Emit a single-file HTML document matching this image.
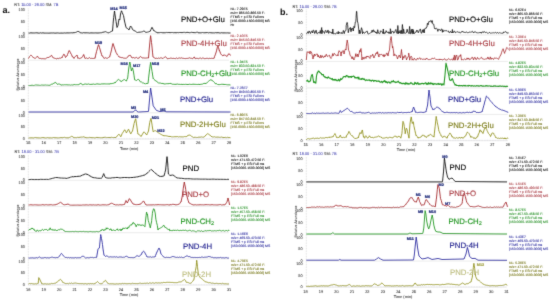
<!DOCTYPE html>
<html><head><meta charset="utf-8"><style>
html,body{margin:0;padding:0;background:#fff;}
body{width:550px;height:301px;overflow:hidden;}
svg{display:block;text-rendering:geometricPrecision;font-family:"Liberation Sans",Arial,sans-serif;}
</style></head><body>
<svg width="550" height="301" viewBox="0 0 550 301">
<defs><filter id="bl" filterUnits="userSpaceOnUse" x="0" y="0" width="550" height="301"><feConvolveMatrix order="3" kernelMatrix="0.01134 0.08382 0.01134 0.08382 0.61935 0.08382 0.01134 0.08382 0.01134" divisor="1" edgeMode="none"/></filter></defs>
<rect width="550" height="301" fill="#fff"/>
<g filter="url(#bl)">
<text x="2.50" y="13.40" font-size="9" fill="#111" text-anchor="start" font-weight="bold" >a.</text>
<text x="280.00" y="15.40" font-size="9" fill="#111" text-anchor="start" font-weight="bold" >b.</text>
<line x1="28.30" y1="8.50" x2="28.30" y2="138.70" stroke="#c8c8c8" stroke-width="0.6" stroke-dasharray="0.8,0.8"/>
<line x1="28.30" y1="138.70" x2="229.10" y2="138.70" stroke="#d0d0dc" stroke-width="0.6" stroke-dasharray="0.8,0.8"/>
<line x1="28.30" y1="33.90" x2="229.10" y2="33.90" stroke="#d8d8d8" stroke-width="0.5"/>
<text x="24.90" y="11.45" font-size="3.8" fill="#333" text-anchor="end" font-weight="normal"  stroke="#333" stroke-width="0.04">100</text>
<text x="24.90" y="23.20" font-size="3.8" fill="#333" text-anchor="end" font-weight="normal"  stroke="#333" stroke-width="0.04">50</text>
<text x="24.90" y="34.95" font-size="3.8" fill="#333" text-anchor="end" font-weight="normal"  stroke="#333" stroke-width="0.04">0</text>
<line x1="28.30" y1="60.20" x2="229.10" y2="60.20" stroke="#d8d8d8" stroke-width="0.5"/>
<text x="24.90" y="37.75" font-size="3.8" fill="#333" text-anchor="end" font-weight="normal"  stroke="#333" stroke-width="0.04">100</text>
<text x="24.90" y="49.50" font-size="3.8" fill="#333" text-anchor="end" font-weight="normal"  stroke="#333" stroke-width="0.04">50</text>
<text x="24.90" y="61.25" font-size="3.8" fill="#333" text-anchor="end" font-weight="normal"  stroke="#333" stroke-width="0.04">0</text>
<line x1="28.30" y1="86.50" x2="229.10" y2="86.50" stroke="#d8d8d8" stroke-width="0.5"/>
<text x="24.90" y="64.05" font-size="3.8" fill="#333" text-anchor="end" font-weight="normal"  stroke="#333" stroke-width="0.04">100</text>
<text x="24.90" y="75.80" font-size="3.8" fill="#333" text-anchor="end" font-weight="normal"  stroke="#333" stroke-width="0.04">50</text>
<text x="24.90" y="87.55" font-size="3.8" fill="#333" text-anchor="end" font-weight="normal"  stroke="#333" stroke-width="0.04">0</text>
<line x1="28.30" y1="112.80" x2="229.10" y2="112.80" stroke="#d8d8d8" stroke-width="0.5"/>
<text x="24.90" y="90.35" font-size="3.8" fill="#333" text-anchor="end" font-weight="normal"  stroke="#333" stroke-width="0.04">100</text>
<text x="24.90" y="102.10" font-size="3.8" fill="#333" text-anchor="end" font-weight="normal"  stroke="#333" stroke-width="0.04">50</text>
<text x="24.90" y="113.85" font-size="3.8" fill="#333" text-anchor="end" font-weight="normal"  stroke="#333" stroke-width="0.04">0</text>
<line x1="28.30" y1="139.10" x2="229.10" y2="139.10" stroke="#d8d8d8" stroke-width="0.5"/>
<text x="24.90" y="116.65" font-size="3.8" fill="#333" text-anchor="end" font-weight="normal"  stroke="#333" stroke-width="0.04">100</text>
<text x="24.90" y="128.40" font-size="3.8" fill="#333" text-anchor="end" font-weight="normal"  stroke="#333" stroke-width="0.04">50</text>
<text x="24.90" y="140.15" font-size="3.8" fill="#333" text-anchor="end" font-weight="normal"  stroke="#333" stroke-width="0.04">0</text>
<text x="28.25" y="144.40" font-size="3.9" fill="#222" text-anchor="middle" font-weight="normal"  stroke="#222" stroke-width="0.04">15</text>
<text x="43.70" y="144.40" font-size="3.9" fill="#222" text-anchor="middle" font-weight="normal"  stroke="#222" stroke-width="0.04">16</text>
<text x="59.15" y="144.40" font-size="3.9" fill="#222" text-anchor="middle" font-weight="normal"  stroke="#222" stroke-width="0.04">17</text>
<text x="74.60" y="144.40" font-size="3.9" fill="#222" text-anchor="middle" font-weight="normal"  stroke="#222" stroke-width="0.04">18</text>
<text x="90.05" y="144.40" font-size="3.9" fill="#222" text-anchor="middle" font-weight="normal"  stroke="#222" stroke-width="0.04">19</text>
<text x="105.50" y="144.40" font-size="3.9" fill="#222" text-anchor="middle" font-weight="normal"  stroke="#222" stroke-width="0.04">20</text>
<text x="120.95" y="144.40" font-size="3.9" fill="#222" text-anchor="middle" font-weight="normal"  stroke="#222" stroke-width="0.04">21</text>
<text x="136.40" y="144.40" font-size="3.9" fill="#222" text-anchor="middle" font-weight="normal"  stroke="#222" stroke-width="0.04">22</text>
<text x="151.85" y="144.40" font-size="3.9" fill="#222" text-anchor="middle" font-weight="normal"  stroke="#222" stroke-width="0.04">23</text>
<text x="167.30" y="144.40" font-size="3.9" fill="#222" text-anchor="middle" font-weight="normal"  stroke="#222" stroke-width="0.04">24</text>
<text x="182.75" y="144.40" font-size="3.9" fill="#222" text-anchor="middle" font-weight="normal"  stroke="#222" stroke-width="0.04">25</text>
<text x="198.20" y="144.40" font-size="3.9" fill="#222" text-anchor="middle" font-weight="normal"  stroke="#222" stroke-width="0.04">26</text>
<text x="213.65" y="144.40" font-size="3.9" fill="#222" text-anchor="middle" font-weight="normal"  stroke="#222" stroke-width="0.04">27</text>
<text x="229.10" y="144.40" font-size="3.9" fill="#222" text-anchor="middle" font-weight="normal"  stroke="#222" stroke-width="0.04">28</text>
<text x="129.20" y="149.70" font-size="3.9" fill="#222" text-anchor="middle" font-weight="normal"  stroke="#222" stroke-width="0.04">Time (min)</text>
<text x="14.20" y="6.15" font-size="3.95" fill="#222" stroke="#222" stroke-width="0.03">RT: <tspan fill="#2c2ca8" stroke="#2c2ca8">15.00 - 28.00</tspan>  SM: <tspan fill="#2c2ca8" stroke="#2c2ca8">7B</tspan></text>
<text x="0" y="0" font-size="3.6" fill="#333" stroke="#333" stroke-width="0.06" text-anchor="middle" transform="translate(18.60,74.50) rotate(-90)">Relative Abundance</text>
<text x="230.60" y="10.30" font-size="3.4" fill="#000000" text-anchor="start" font-weight="normal" stroke="#000000" stroke-width="0.08">NL: 7.29E5</text>
<text x="230.60" y="14.30" font-size="3.4" fill="#000000" text-anchor="start" font-weight="normal" stroke="#000000" stroke-width="0.08">m/z= 865.50-866.50 F:</text>
<text x="230.60" y="18.30" font-size="3.4" fill="#000000" text-anchor="start" font-weight="normal" stroke="#000000" stroke-width="0.08">FTMS + p ESI Full ms</text>
<text x="230.60" y="22.30" font-size="3.4" fill="#000000" text-anchor="start" font-weight="normal" stroke="#000000" stroke-width="0.08">[150.0000-1500.0000]  MS</text>
<text x="230.60" y="26.30" font-size="3.4" fill="#000000" text-anchor="start" font-weight="normal" stroke="#000000" stroke-width="0.08">Hr</text>
<text x="230.60" y="36.60" font-size="3.4" fill="#a02830" text-anchor="start" font-weight="normal" stroke="#a02830" stroke-width="0.08">NL: 2.10E5</text>
<text x="230.60" y="40.60" font-size="3.4" fill="#a02830" text-anchor="start" font-weight="normal" stroke="#a02830" stroke-width="0.08">m/z= 845.50-846.50 F:</text>
<text x="230.60" y="44.60" font-size="3.4" fill="#a02830" text-anchor="start" font-weight="normal" stroke="#a02830" stroke-width="0.08">FTMS + p ESI Full ms</text>
<text x="230.60" y="48.60" font-size="3.4" fill="#a02830" text-anchor="start" font-weight="normal" stroke="#a02830" stroke-width="0.08">[150.0000-1500.0000]  MS</text>
<text x="230.60" y="62.90" font-size="3.4" fill="#1a8a1a" text-anchor="start" font-weight="normal" stroke="#1a8a1a" stroke-width="0.08">NL: 1.94E5</text>
<text x="230.60" y="66.90" font-size="3.4" fill="#1a8a1a" text-anchor="start" font-weight="normal" stroke="#1a8a1a" stroke-width="0.08">m/z= 833.50-834.50 F:</text>
<text x="230.60" y="70.90" font-size="3.4" fill="#1a8a1a" text-anchor="start" font-weight="normal" stroke="#1a8a1a" stroke-width="0.08">FTMS + p ESI Full ms</text>
<text x="230.60" y="74.90" font-size="3.4" fill="#1a8a1a" text-anchor="start" font-weight="normal" stroke="#1a8a1a" stroke-width="0.08">[150.0000-1500.0000]  MS</text>
<text x="230.60" y="89.20" font-size="3.4" fill="#1a1a96" text-anchor="start" font-weight="normal" stroke="#1a1a96" stroke-width="0.08">NL: 7.76E7</text>
<text x="230.60" y="93.20" font-size="3.4" fill="#1a1a96" text-anchor="start" font-weight="normal" stroke="#1a1a96" stroke-width="0.08">m/z= 849.50-850.50 F:</text>
<text x="230.60" y="97.20" font-size="3.4" fill="#1a1a96" text-anchor="start" font-weight="normal" stroke="#1a1a96" stroke-width="0.08">FTMS + p ESI Full ms</text>
<text x="230.60" y="101.20" font-size="3.4" fill="#1a1a96" text-anchor="start" font-weight="normal" stroke="#1a1a96" stroke-width="0.08">[150.0000-1500.0000]  MS</text>
<text x="230.60" y="115.50" font-size="3.4" fill="#6e6e10" text-anchor="start" font-weight="normal" stroke="#6e6e10" stroke-width="0.08">NL: 6.89E5</text>
<text x="230.60" y="119.50" font-size="3.4" fill="#6e6e10" text-anchor="start" font-weight="normal" stroke="#6e6e10" stroke-width="0.08">m/z= 847.50-848.50 F:</text>
<text x="230.60" y="123.50" font-size="3.4" fill="#6e6e10" text-anchor="start" font-weight="normal" stroke="#6e6e10" stroke-width="0.08">FTMS + p ESI Full ms</text>
<text x="230.60" y="127.50" font-size="3.4" fill="#6e6e10" text-anchor="start" font-weight="normal" stroke="#6e6e10" stroke-width="0.08">[150.0000-1500.0000]  MS</text>
<polyline points="28.50,33.00 29.70,33.05 30.90,32.80 32.10,32.94 33.30,32.95 34.50,32.96 35.70,32.83 36.90,32.80 38.10,33.03 39.30,33.12 40.50,32.76 41.70,33.09 42.90,32.81 44.10,33.07 45.30,33.06 46.50,33.06 47.70,33.07 48.90,33.11 50.10,33.04 51.30,32.94 52.50,32.98 53.70,32.92 54.90,33.14 56.10,33.05 57.30,32.91 58.50,33.01 59.70,33.18 60.00,33.20 60.90,32.99 62.10,33.08 63.30,33.07 64.50,32.88 65.70,33.05 66.90,32.89 68.10,32.93 69.30,32.92 70.50,32.82 71.70,32.75 72.90,32.89 74.10,32.55 75.00,32.80 75.30,32.57 76.50,32.15 77.70,31.46 78.00,31.50 78.90,31.69 80.10,32.54 81.00,33.00 81.30,32.89 82.50,32.99 83.70,32.65 84.90,32.86 86.10,32.80 87.30,32.81 88.50,32.89 89.70,33.05 90.90,32.86 92.10,32.92 93.30,32.94 94.50,32.93 95.70,32.88 96.90,32.96 98.10,33.00 99.30,32.82 100.00,33.00 100.50,32.76 101.70,32.69 102.90,32.22 104.00,32.20 104.10,32.11 105.30,31.73 106.00,31.80 106.50,32.12 107.70,32.72 108.00,33.00 108.90,32.70 109.50,32.50 110.10,32.16 111.30,31.44 112.50,31.00 113.50,19.00 113.70,17.36 114.50,11.00 114.90,13.78 115.50,18.00 116.10,21.70 117.00,27.50 117.30,26.96 118.00,25.50 118.50,22.13 119.00,19.00 119.70,19.81 119.80,20.00 120.50,14.00 120.90,12.65 121.50,10.80 122.10,12.30 122.80,14.00 123.30,15.09 123.50,15.50 124.50,21.00 125.70,26.07 126.00,27.50 126.90,28.16 127.50,28.50 128.10,28.91 129.00,30.00 129.30,29.21 130.50,26.00 131.50,27.00 131.70,27.46 132.50,29.50 132.90,29.76 134.00,30.50 134.10,30.54 135.30,31.14 136.50,32.19 137.00,32.50 137.70,32.49 138.90,32.21 140.10,32.22 141.30,31.94 142.00,32.20 142.50,31.77 143.70,31.03 144.00,31.00 144.90,31.57 146.00,32.60 146.10,32.43 147.30,32.18 148.50,31.93 149.70,31.48 150.00,31.50 150.90,29.63 152.00,27.30 152.10,27.46 153.30,29.73 154.00,31.00 154.50,30.98 155.70,31.98 156.90,32.49 157.00,32.80 158.10,32.72 159.30,32.70 160.50,32.50 161.70,32.57 162.90,32.77 164.10,32.78 165.30,32.71 166.50,32.46 167.70,32.59 168.90,32.51 170.10,32.67 171.30,32.52 172.50,32.51 173.70,32.72 174.90,32.64 176.10,32.76 177.30,32.56 178.50,32.67 179.70,32.48 180.90,32.54 182.10,32.63 183.30,32.44 184.50,32.40 185.70,32.67 186.90,32.37 188.10,32.44 189.30,32.69 190.50,32.59 191.70,32.32 192.90,32.56 194.10,32.63 195.30,32.66 196.00,32.60 196.50,32.33 197.00,32.00 197.70,32.28 198.00,32.80 198.90,32.78 200.10,32.83 201.30,32.75 202.50,32.51 203.70,32.72 204.90,32.75 206.10,32.67 207.30,32.52 208.50,32.87 209.70,32.59 210.90,32.76 212.10,32.87 213.30,32.83 214.50,32.87 215.70,32.61 216.90,32.81 218.10,32.64 219.30,32.88 220.50,32.96 221.70,32.68 222.90,32.93 224.10,32.87 225.30,32.88 226.50,32.89 227.70,32.83 228.90,33.01 230.10,33.02 230.50,33.00" fill="none" stroke="#151515" stroke-width="0.9" stroke-linejoin="round"/>
<polyline points="28.50,58.50 29.50,56.48 30.50,55.51 30.80,55.20 31.50,55.49 32.50,56.63 33.00,57.50 33.50,57.55 34.50,57.94 35.00,58.50 35.50,57.98 36.50,57.12 37.30,56.70 37.50,56.22 38.50,57.80 39.00,58.50 39.50,58.40 40.50,58.45 41.50,58.75 42.50,58.65 43.50,58.71 44.50,58.80 45.00,59.00 45.50,58.81 46.50,58.04 47.50,57.55 48.50,57.44 49.00,57.50 49.50,56.77 50.50,56.36 51.20,55.70 51.50,55.22 52.50,56.89 53.00,57.80 53.50,57.84 54.50,58.24 55.50,58.51 56.50,58.91 57.00,59.00 57.50,58.27 58.50,58.63 59.50,58.14 60.50,58.23 61.50,57.67 62.00,58.00 62.50,56.23 63.30,55.20 63.50,54.38 64.20,54.60 64.50,54.61 65.50,57.50 66.50,56.36 67.00,56.00 67.50,54.50 68.50,52.12 69.20,50.50 69.50,51.06 70.50,52.66 71.00,54.00 71.50,54.58 72.50,57.00 73.50,57.28 74.00,58.50 74.50,57.36 75.50,56.28 76.00,56.00 76.50,55.59 77.00,55.00 77.50,56.75 78.00,58.50 78.50,57.88 79.50,58.60 80.00,58.50 80.50,58.22 81.50,57.71 82.00,57.50 82.50,56.66 83.50,54.99 83.70,54.50 84.50,57.03 85.00,58.50 85.50,58.43 86.50,57.92 87.50,58.55 88.50,58.29 89.50,57.62 90.50,58.45 91.50,58.34 92.50,58.45 93.50,58.48 94.50,58.16 95.00,58.50 95.50,55.83 96.50,51.63 97.00,50.00 97.50,47.99 98.50,44.60 99.50,47.46 100.50,51.00 101.50,54.32 102.00,56.00 102.50,55.94 103.50,57.63 104.00,58.50 104.50,58.24 105.50,57.71 106.50,58.25 107.00,58.50 107.50,58.23 108.50,57.50 109.50,56.96 109.60,57.00 110.50,53.82 111.00,52.00 111.50,49.87 112.50,45.10 113.00,43.50 113.50,44.96 114.50,48.00 115.50,50.94 116.00,52.40 116.50,53.11 117.50,55.00 118.50,55.92 119.00,57.00 119.50,57.08 120.50,57.36 121.50,57.63 122.00,58.00 122.50,57.63 123.50,58.09 124.50,58.21 125.50,58.27 126.00,58.50 126.50,58.08 127.50,57.36 128.50,55.76 129.00,56.00 129.50,55.40 130.00,55.00 130.50,55.41 131.50,57.17 132.00,58.00 132.50,57.89 133.50,57.56 134.50,58.08 135.50,57.85 136.50,57.39 137.50,58.29 138.50,58.22 139.00,58.30 139.50,57.24 140.50,56.50 140.60,56.40 141.50,57.34 142.00,58.00 142.50,58.01 143.50,57.93 144.50,58.06 145.50,58.08 146.50,58.01 147.50,57.91 148.50,58.00 149.50,46.00 150.50,36.12 150.60,35.60 151.50,42.53 151.80,45.00 152.50,52.10 153.00,57.00 153.50,57.27 154.50,57.74 155.00,58.60 155.50,58.39 156.50,58.22 157.50,58.49 158.50,58.03 159.50,58.38 160.50,57.91 161.50,57.95 162.50,58.39 163.00,58.50 163.50,57.92 164.50,57.33 165.00,57.00 165.50,56.78 166.50,57.59 167.00,58.60 167.50,58.69 168.50,58.57 169.50,58.47 170.50,58.14 171.50,58.22 172.50,58.48 173.50,58.36 174.50,58.51 175.50,58.61 176.50,57.97 177.50,58.60 178.50,58.18 179.50,57.98 180.50,58.24 181.50,57.89 182.50,58.29 183.50,58.36 184.50,58.50 185.50,58.59 186.50,58.44 187.50,58.39 188.50,58.26 189.50,57.82 190.50,58.26 191.50,58.30 192.50,58.62 193.00,58.60 193.50,57.77 194.00,57.00 194.50,57.09 195.00,58.60 195.50,58.59 196.50,58.37 197.50,58.41 198.50,58.71 199.50,58.24 200.50,58.06 201.50,58.66 202.50,58.06 203.50,58.20 204.50,58.63 205.50,58.57 206.50,58.37 207.50,58.33 208.50,58.65 209.50,58.37 210.50,58.49 211.50,58.31 212.50,58.43 213.50,58.38 214.00,58.50 214.50,56.74 215.50,54.14 216.20,52.00 216.50,50.92 217.50,46.56 217.90,45.50 218.50,47.49 219.40,51.00 219.50,50.55 220.50,53.29 221.00,54.40 221.50,54.62 222.50,55.62 223.00,56.00 223.50,54.97 224.50,55.04 225.00,55.00 225.50,55.38 226.50,56.13 227.00,56.50 227.50,55.76 228.50,53.86 229.00,54.00 229.50,53.95 230.50,55.50" fill="none" stroke="#a4282c" stroke-width="0.9" stroke-linejoin="round"/>
<polyline points="28.50,85.50 29.70,85.47 30.90,85.44 32.10,85.18 33.30,85.54 34.50,85.35 35.70,84.98 36.90,85.10 38.10,85.14 39.30,85.31 40.50,85.33 41.70,85.07 42.90,85.13 44.10,85.20 45.30,85.00 46.50,85.19 47.70,85.20 48.90,85.32 50.00,85.30 50.10,85.28 51.30,84.29 52.50,84.14 53.00,84.00 53.70,83.19 54.90,82.76 55.80,82.50 56.10,82.71 57.30,84.23 57.50,84.50 58.50,83.98 59.00,83.80 59.70,84.19 60.90,84.92 61.00,85.20 62.10,84.90 63.30,84.96 64.50,84.81 65.70,84.84 66.90,84.84 68.10,84.97 69.30,84.90 70.50,85.16 71.70,84.91 72.90,85.09 74.10,84.59 75.30,84.75 76.50,84.74 77.70,84.77 78.00,85.00 78.90,84.51 80.10,83.69 80.90,83.40 81.30,83.52 82.50,85.00 83.70,84.56 84.90,83.95 85.50,84.00 86.10,84.16 87.30,84.27 88.50,83.94 89.70,84.38 90.00,84.50 90.90,84.31 92.10,84.33 93.30,84.00 94.50,84.34 95.70,84.25 96.90,83.87 98.10,84.00 99.30,84.16 100.00,84.20 100.50,84.22 101.70,83.88 102.90,83.96 104.10,83.87 105.30,83.93 106.50,83.96 107.70,83.96 108.90,83.98 110.00,84.00 110.10,83.78 111.30,83.63 112.50,83.46 113.70,83.19 114.90,82.63 115.00,83.00 116.10,81.71 117.30,80.38 118.30,79.40 118.50,79.20 119.70,80.47 120.90,81.12 121.10,81.60 122.10,80.93 123.30,79.99 124.20,79.80 124.50,79.54 125.70,80.57 126.50,81.00 126.90,79.64 127.70,78.00 128.10,74.25 128.80,68.00 129.30,64.80 129.80,62.00 130.50,65.29 130.60,66.00 131.40,71.00 131.70,70.06 132.50,67.80 132.90,69.22 133.50,72.00 134.10,75.92 134.60,79.80 135.30,80.00 136.50,80.50 137.70,79.53 138.60,79.40 138.90,79.74 140.10,81.35 140.50,82.00 141.30,81.85 142.50,82.90 143.70,83.03 144.90,83.75 145.60,84.00 146.10,83.44 147.30,83.48 148.00,83.50 148.50,78.88 149.30,72.00 149.70,68.97 150.60,62.40 150.90,64.17 151.80,70.00 152.10,71.66 153.20,78.70 153.30,78.39 154.50,79.68 155.50,81.00 155.70,80.84 156.90,81.53 158.10,82.69 158.70,83.00 159.30,83.03 160.50,83.09 161.70,83.51 162.90,83.46 164.10,83.92 165.00,84.00 165.30,83.94 166.50,83.71 167.70,83.66 168.90,83.64 169.60,83.50 170.10,83.36 171.30,83.64 172.00,84.30 172.50,84.22 173.70,84.28 174.90,84.34 176.10,84.31 177.30,84.03 178.50,84.36 179.70,84.37 180.50,84.50 180.90,84.16 182.10,84.50 183.30,84.41 184.50,84.48 185.70,84.31 186.90,84.44 188.10,84.51 189.30,84.24 190.50,84.42 191.70,84.46 192.90,84.19 194.10,84.24 195.30,84.38 196.50,84.44 197.70,84.47 198.90,84.34 200.00,84.50 200.10,84.40 201.30,84.26 202.50,84.10 203.70,83.46 204.90,83.39 206.00,83.50 206.10,83.38 207.30,82.49 208.50,81.32 209.00,81.00 209.70,80.34 210.90,79.63 211.00,79.80 212.10,80.48 213.00,81.00 213.30,81.29 214.50,82.49 215.00,83.50 215.70,83.67 216.90,83.80 217.60,84.50 218.10,84.60 219.30,84.65 220.50,84.49 221.70,84.27 222.90,84.30 224.10,84.49 225.30,84.47 226.50,84.70 227.70,84.85 228.90,84.88 230.10,84.88 230.50,85.00" fill="none" stroke="#279a27" stroke-width="0.9" stroke-linejoin="round"/>
<polyline points="28.50,112.00 133.00,112.00 134.50,111.00 135.70,109.80 137.00,111.50 138.50,112.00 148.50,111.50 149.50,100.00 150.60,88.00 151.80,96.00 153.20,105.80 156.50,110.50 160.00,111.60 164.10,111.00 166.00,111.80 230.50,112.00" fill="none" stroke="#2e2ea2" stroke-width="0.9" stroke-linejoin="round"/>
<polyline points="28.50,138.00 29.70,137.89 30.90,137.82 32.10,137.85 33.30,137.97 34.50,137.64 35.70,137.56 36.90,137.82 38.10,137.85 39.30,137.89 40.50,137.99 41.70,137.63 42.90,137.60 44.10,137.70 45.30,137.99 46.50,137.84 47.70,137.59 48.90,137.96 50.10,137.81 51.30,137.96 52.50,137.78 53.70,137.52 54.90,137.75 56.10,137.77 57.30,137.84 58.50,137.89 59.70,137.76 60.90,137.57 62.10,137.79 63.30,137.54 64.50,137.35 65.70,137.66 66.90,137.87 68.10,137.77 69.00,137.80 69.30,137.54 70.50,137.01 71.60,136.30 71.70,136.40 72.90,136.86 74.00,137.80 74.10,137.72 75.30,137.64 76.50,137.64 77.70,137.31 78.90,137.48 80.10,137.26 81.30,137.13 82.50,137.14 83.70,136.84 83.70,137.00 84.90,137.31 86.00,137.80 86.10,137.73 87.30,137.70 88.50,137.68 89.70,137.39 90.90,137.65 92.10,137.68 93.30,137.65 94.50,137.83 95.70,137.73 96.90,137.37 98.10,137.60 99.30,137.61 100.50,137.69 101.70,137.76 102.90,137.64 104.10,137.35 105.30,137.28 106.50,137.61 107.70,137.52 108.90,137.51 110.10,137.68 111.30,137.29 112.50,137.49 113.70,137.57 114.90,137.44 116.00,137.60 116.10,137.48 117.30,135.83 118.50,134.46 118.90,134.10 119.70,135.22 120.80,136.80 120.90,136.54 122.10,133.70 122.50,133.00 123.30,131.91 124.50,129.98 124.80,129.70 125.70,131.51 126.40,132.90 126.90,132.03 128.10,129.88 128.50,129.20 129.30,130.84 130.50,133.54 130.70,134.00 131.70,132.18 132.50,131.00 132.90,129.15 134.00,124.00 134.10,123.42 135.30,119.66 135.70,118.70 136.50,123.91 136.80,126.00 137.70,132.60 137.90,134.00 138.90,134.40 140.10,135.52 141.20,136.50 141.30,136.05 142.50,134.09 143.70,132.11 144.00,131.80 144.90,132.77 146.10,134.17 146.70,135.00 147.30,133.60 148.50,131.00 149.70,122.64 149.80,122.00 150.90,118.63 151.00,118.30 152.10,125.11 152.20,126.00 153.20,131.80 153.30,131.58 154.30,131.00 154.50,130.87 155.40,130.70 155.70,130.81 156.90,131.64 158.10,132.47 158.70,133.00 159.30,133.22 160.50,134.10 161.70,134.73 162.90,135.39 163.00,135.50 164.10,135.75 165.30,135.74 166.50,135.86 167.70,136.15 168.90,136.46 170.10,136.43 171.30,136.68 171.80,137.00 172.50,136.87 173.70,136.87 174.90,136.73 176.10,136.82 177.30,136.58 178.50,137.01 179.70,136.78 180.90,136.92 182.10,136.93 183.30,136.94 184.50,136.60 185.70,136.71 186.00,137.00 186.90,136.28 188.10,135.37 189.20,135.10 189.30,135.05 190.50,135.42 191.70,136.43 192.90,137.14 193.60,137.50 194.10,137.37 195.30,137.29 196.50,137.45 197.70,137.48 198.90,137.10 200.10,137.28 201.30,136.92 202.50,137.18 203.70,137.16 204.00,137.30 204.90,136.13 206.10,134.98 207.30,133.94 207.80,133.60 208.50,134.14 209.70,135.02 210.90,135.91 212.00,137.00 212.10,136.95 213.30,137.06 214.50,136.80 215.70,137.22 216.90,137.15 218.10,137.09 219.30,137.31 220.50,137.29 221.70,137.07 222.90,137.50 224.10,137.59 225.30,137.37 226.50,137.65 227.70,137.28 228.90,137.65 230.10,137.65 230.50,137.80" fill="none" stroke="#939322" stroke-width="0.9" stroke-linejoin="round"/>
<text x="181.00" y="22.20" font-size="7.8" fill="#000000" stroke="#000000" stroke-width="0.14">PND+O+Glu</text>
<text x="181.00" y="46.40" font-size="7.8" fill="#a83a40" stroke="#a83a40" stroke-width="0.14">PND-4H+Glu</text>
<text x="181.00" y="75.80" font-size="7.8" fill="#1f941f" stroke="#1f941f" stroke-width="0.14">PND-CH<tspan font-size="5.4" dy="1">2</tspan><tspan dy="-1">+Glu</tspan></text>
<text x="180.00" y="102.20" font-size="7.8" fill="#20208e" stroke="#20208e" stroke-width="0.14">PND+Glu</text>
<text x="180.00" y="127.20" font-size="7.8" fill="#7c7c18" stroke="#7c7c18" stroke-width="0.14">PND-2H+Glu</text>
<text x="114.00" y="10.20" font-size="3.8" fill="#1a2878" text-anchor="middle" font-weight="bold" stroke="#1a2878" stroke-width="0.2">M14</text>
<text x="123.30" y="8.90" font-size="3.8" fill="#1a2878" text-anchor="middle" font-weight="bold" stroke="#1a2878" stroke-width="0.2">M15</text>
<text x="98.50" y="43.60" font-size="3.8" fill="#1a2878" text-anchor="middle" font-weight="bold" stroke="#1a2878" stroke-width="0.2">M19</text>
<text x="124.20" y="65.00" font-size="3.8" fill="#1a2878" text-anchor="middle" font-weight="bold" stroke="#1a2878" stroke-width="0.2">M16</text>
<text x="136.80" y="66.60" font-size="3.8" fill="#1a2878" text-anchor="middle" font-weight="bold" stroke="#1a2878" stroke-width="0.2">M17</text>
<text x="155.40" y="64.90" font-size="3.8" fill="#1a2878" text-anchor="middle" font-weight="bold" stroke="#1a2878" stroke-width="0.2">M18</text>
<text x="133.60" y="109.00" font-size="3.8" fill="#1a2878" text-anchor="middle" font-weight="bold" stroke="#1a2878" stroke-width="0.2">M3</text>
<text x="145.60" y="93.00" font-size="3.8" fill="#1a2878" text-anchor="middle" font-weight="bold" stroke="#1a2878" stroke-width="0.2">M4</text>
<text x="163.00" y="110.90" font-size="3.8" fill="#1a2878" text-anchor="middle" font-weight="bold" stroke="#1a2878" stroke-width="0.2">M5</text>
<text x="134.70" y="117.90" font-size="3.8" fill="#1a2878" text-anchor="middle" font-weight="bold" stroke="#1a2878" stroke-width="0.2">M20</text>
<text x="155.40" y="119.00" font-size="3.8" fill="#1a2878" text-anchor="middle" font-weight="bold" stroke="#1a2878" stroke-width="0.2">M21</text>
<text x="160.90" y="132.10" font-size="3.8" fill="#1a2878" text-anchor="middle" font-weight="bold" stroke="#1a2878" stroke-width="0.2">M22</text>
<line x1="28.30" y1="154.90" x2="28.30" y2="284.70" stroke="#c8c8c8" stroke-width="0.6" stroke-dasharray="0.8,0.8"/>
<line x1="28.30" y1="284.70" x2="229.10" y2="284.70" stroke="#d0d0dc" stroke-width="0.6" stroke-dasharray="0.8,0.8"/>
<line x1="28.30" y1="180.30" x2="229.10" y2="180.30" stroke="#d8d8d8" stroke-width="0.5"/>
<text x="24.90" y="157.85" font-size="3.8" fill="#333" text-anchor="end" font-weight="normal"  stroke="#333" stroke-width="0.04">100</text>
<text x="24.90" y="169.60" font-size="3.8" fill="#333" text-anchor="end" font-weight="normal"  stroke="#333" stroke-width="0.04">50</text>
<text x="24.90" y="181.35" font-size="3.8" fill="#333" text-anchor="end" font-weight="normal"  stroke="#333" stroke-width="0.04">0</text>
<line x1="28.30" y1="206.40" x2="229.10" y2="206.40" stroke="#d8d8d8" stroke-width="0.5"/>
<text x="24.90" y="183.95" font-size="3.8" fill="#333" text-anchor="end" font-weight="normal"  stroke="#333" stroke-width="0.04">100</text>
<text x="24.90" y="195.70" font-size="3.8" fill="#333" text-anchor="end" font-weight="normal"  stroke="#333" stroke-width="0.04">50</text>
<text x="24.90" y="207.45" font-size="3.8" fill="#333" text-anchor="end" font-weight="normal"  stroke="#333" stroke-width="0.04">0</text>
<line x1="28.30" y1="232.70" x2="229.10" y2="232.70" stroke="#d8d8d8" stroke-width="0.5"/>
<text x="24.90" y="210.25" font-size="3.8" fill="#333" text-anchor="end" font-weight="normal"  stroke="#333" stroke-width="0.04">100</text>
<text x="24.90" y="222.00" font-size="3.8" fill="#333" text-anchor="end" font-weight="normal"  stroke="#333" stroke-width="0.04">50</text>
<text x="24.90" y="233.75" font-size="3.8" fill="#333" text-anchor="end" font-weight="normal"  stroke="#333" stroke-width="0.04">0</text>
<line x1="28.30" y1="258.90" x2="229.10" y2="258.90" stroke="#d8d8d8" stroke-width="0.5"/>
<text x="24.90" y="236.45" font-size="3.8" fill="#333" text-anchor="end" font-weight="normal"  stroke="#333" stroke-width="0.04">100</text>
<text x="24.90" y="248.20" font-size="3.8" fill="#333" text-anchor="end" font-weight="normal"  stroke="#333" stroke-width="0.04">50</text>
<text x="24.90" y="259.95" font-size="3.8" fill="#333" text-anchor="end" font-weight="normal"  stroke="#333" stroke-width="0.04">0</text>
<line x1="28.30" y1="285.10" x2="229.10" y2="285.10" stroke="#d8d8d8" stroke-width="0.5"/>
<text x="24.90" y="262.65" font-size="3.8" fill="#333" text-anchor="end" font-weight="normal"  stroke="#333" stroke-width="0.04">100</text>
<text x="24.90" y="274.40" font-size="3.8" fill="#333" text-anchor="end" font-weight="normal"  stroke="#333" stroke-width="0.04">50</text>
<text x="24.90" y="286.15" font-size="3.8" fill="#333" text-anchor="end" font-weight="normal"  stroke="#333" stroke-width="0.04">0</text>
<text x="28.25" y="291.00" font-size="3.9" fill="#222" text-anchor="middle" font-weight="normal"  stroke="#222" stroke-width="0.04">18</text>
<text x="43.70" y="291.00" font-size="3.9" fill="#222" text-anchor="middle" font-weight="normal"  stroke="#222" stroke-width="0.04">19</text>
<text x="59.15" y="291.00" font-size="3.9" fill="#222" text-anchor="middle" font-weight="normal"  stroke="#222" stroke-width="0.04">20</text>
<text x="74.60" y="291.00" font-size="3.9" fill="#222" text-anchor="middle" font-weight="normal"  stroke="#222" stroke-width="0.04">21</text>
<text x="90.05" y="291.00" font-size="3.9" fill="#222" text-anchor="middle" font-weight="normal"  stroke="#222" stroke-width="0.04">22</text>
<text x="105.50" y="291.00" font-size="3.9" fill="#222" text-anchor="middle" font-weight="normal"  stroke="#222" stroke-width="0.04">23</text>
<text x="120.95" y="291.00" font-size="3.9" fill="#222" text-anchor="middle" font-weight="normal"  stroke="#222" stroke-width="0.04">24</text>
<text x="136.40" y="291.00" font-size="3.9" fill="#222" text-anchor="middle" font-weight="normal"  stroke="#222" stroke-width="0.04">25</text>
<text x="151.85" y="291.00" font-size="3.9" fill="#222" text-anchor="middle" font-weight="normal"  stroke="#222" stroke-width="0.04">26</text>
<text x="167.30" y="291.00" font-size="3.9" fill="#222" text-anchor="middle" font-weight="normal"  stroke="#222" stroke-width="0.04">27</text>
<text x="182.75" y="291.00" font-size="3.9" fill="#222" text-anchor="middle" font-weight="normal"  stroke="#222" stroke-width="0.04">28</text>
<text x="198.20" y="291.00" font-size="3.9" fill="#222" text-anchor="middle" font-weight="normal"  stroke="#222" stroke-width="0.04">29</text>
<text x="213.65" y="291.00" font-size="3.9" fill="#222" text-anchor="middle" font-weight="normal"  stroke="#222" stroke-width="0.04">30</text>
<text x="229.10" y="291.00" font-size="3.9" fill="#222" text-anchor="middle" font-weight="normal"  stroke="#222" stroke-width="0.04">31</text>
<text x="129.00" y="295.90" font-size="3.9" fill="#222" text-anchor="middle" font-weight="normal"  stroke="#222" stroke-width="0.04">Time (min)</text>
<text x="14.60" y="152.75" font-size="3.95" fill="#222" stroke="#222" stroke-width="0.03">RT: <tspan fill="#2c2ca8" stroke="#2c2ca8">18.00 - 31.00</tspan>  SM: <tspan fill="#2c2ca8" stroke="#2c2ca8">7B</tspan></text>
<text x="0" y="0" font-size="3.6" fill="#333" stroke="#333" stroke-width="0.06" text-anchor="middle" transform="translate(18.60,220.50) rotate(-90)">Relative Abundance</text>
<text x="231.00" y="156.70" font-size="3.4" fill="#000000" text-anchor="start" font-weight="normal" stroke="#000000" stroke-width="0.08">NL: 1.02E6</text>
<text x="231.00" y="160.70" font-size="3.4" fill="#000000" text-anchor="start" font-weight="normal" stroke="#000000" stroke-width="0.08">m/z= 471.50-472.50 F:</text>
<text x="231.00" y="164.70" font-size="3.4" fill="#000000" text-anchor="start" font-weight="normal" stroke="#000000" stroke-width="0.08">FTMS + p ESI Full ms</text>
<text x="231.00" y="168.70" font-size="3.4" fill="#000000" text-anchor="start" font-weight="normal" stroke="#000000" stroke-width="0.08">[150.0000-1500.0000]  MS</text>
<text x="231.00" y="182.80" font-size="3.4" fill="#a02830" text-anchor="start" font-weight="normal" stroke="#a02830" stroke-width="0.08">NL: 9.82E5</text>
<text x="231.00" y="186.80" font-size="3.4" fill="#a02830" text-anchor="start" font-weight="normal" stroke="#a02830" stroke-width="0.08">m/z= 486.50-488.50 F:</text>
<text x="231.00" y="190.80" font-size="3.4" fill="#a02830" text-anchor="start" font-weight="normal" stroke="#a02830" stroke-width="0.08">FTMS + p ESI Full ms</text>
<text x="231.00" y="194.80" font-size="3.4" fill="#a02830" text-anchor="start" font-weight="normal" stroke="#a02830" stroke-width="0.08">[150.0000-1500.0000]  MS</text>
<text x="231.00" y="209.10" font-size="3.4" fill="#1a8a1a" text-anchor="start" font-weight="normal" stroke="#1a8a1a" stroke-width="0.08">NL: 1.57E5</text>
<text x="231.00" y="213.10" font-size="3.4" fill="#1a8a1a" text-anchor="start" font-weight="normal" stroke="#1a8a1a" stroke-width="0.08">m/z= 457.50-458.50 F:</text>
<text x="231.00" y="217.10" font-size="3.4" fill="#1a8a1a" text-anchor="start" font-weight="normal" stroke="#1a8a1a" stroke-width="0.08">FTMS + p ESI Full ms</text>
<text x="231.00" y="221.10" font-size="3.4" fill="#1a8a1a" text-anchor="start" font-weight="normal" stroke="#1a8a1a" stroke-width="0.08">[150.0000-1500.0000]  MS</text>
<text x="231.00" y="235.30" font-size="3.4" fill="#1a1a96" text-anchor="start" font-weight="normal" stroke="#1a1a96" stroke-width="0.08">NL: 1.16E6</text>
<text x="231.00" y="239.30" font-size="3.4" fill="#1a1a96" text-anchor="start" font-weight="normal" stroke="#1a1a96" stroke-width="0.08">m/z= 469.50-470.50 F:</text>
<text x="231.00" y="243.30" font-size="3.4" fill="#1a1a96" text-anchor="start" font-weight="normal" stroke="#1a1a96" stroke-width="0.08">FTMS + p ESI Full ms</text>
<text x="231.00" y="247.30" font-size="3.4" fill="#1a1a96" text-anchor="start" font-weight="normal" stroke="#1a1a96" stroke-width="0.08">[150.0000-1500.0000]  MS</text>
<text x="231.00" y="261.50" font-size="3.4" fill="#6e6e10" text-anchor="start" font-weight="normal" stroke="#6e6e10" stroke-width="0.08">NL: 4.70E5</text>
<text x="231.00" y="265.50" font-size="3.4" fill="#6e6e10" text-anchor="start" font-weight="normal" stroke="#6e6e10" stroke-width="0.08">m/z= 471.50-472.50 F:</text>
<text x="231.00" y="269.50" font-size="3.4" fill="#6e6e10" text-anchor="start" font-weight="normal" stroke="#6e6e10" stroke-width="0.08">FTMS + p ESI Full ms</text>
<text x="231.00" y="273.50" font-size="3.4" fill="#6e6e10" text-anchor="start" font-weight="normal" stroke="#6e6e10" stroke-width="0.08">[150.0000-1500.0000]  MS</text>
<polyline points="28.50,179.60 30.00,179.56 31.50,179.41 33.00,179.54 34.50,179.56 36.00,179.53 37.50,179.52 39.00,179.59 40.50,179.37 42.00,179.41 43.50,179.46 45.00,179.44 46.50,179.39 48.00,179.46 48.40,179.50 49.50,179.19 51.00,178.79 52.00,178.50 52.50,178.35 54.00,178.00 55.50,177.60 55.80,177.60 57.00,177.59 58.50,177.75 60.00,178.00 61.50,178.05 63.00,178.13 64.50,178.19 66.00,178.27 67.00,178.50 67.50,178.20 69.00,177.79 70.00,177.50 70.50,177.14 71.60,176.90 72.00,176.67 73.50,176.79 75.00,176.51 76.00,176.60 76.50,176.54 78.00,176.30 79.50,176.30 80.00,176.30 81.00,175.80 82.50,175.04 83.00,175.00 84.00,174.49 85.50,173.90 87.00,174.35 88.00,174.60 88.50,174.97 90.00,176.00 91.50,176.79 93.00,177.60 94.50,177.78 96.00,177.91 97.00,178.20 97.50,178.27 99.00,178.31 100.50,178.32 101.30,178.50 102.00,177.40 102.80,176.00 103.50,174.09 103.70,173.60 104.80,176.50 105.00,176.60 106.00,178.00 106.50,177.94 108.00,178.11 109.50,178.18 110.00,178.20 111.00,178.07 112.50,177.76 114.00,177.80 115.50,177.59 117.00,177.40 118.50,177.64 120.00,178.00 121.50,177.73 123.00,177.64 124.50,177.51 125.00,177.50 126.00,177.63 127.50,177.55 129.00,177.80 130.50,177.56 132.00,177.57 133.50,177.37 135.00,177.24 136.50,176.95 137.00,177.00 138.00,176.78 139.50,176.33 141.00,176.00 142.50,175.62 144.00,175.14 145.00,175.00 145.50,174.37 147.00,173.30 148.00,172.50 148.50,171.88 150.00,170.41 151.00,169.40 151.50,169.68 153.00,171.00 154.50,172.53 155.00,173.00 156.00,173.63 157.50,175.00 159.00,175.88 160.00,176.60 160.50,176.45 162.00,176.36 163.50,176.05 164.00,176.00 165.00,172.27 165.60,170.00 166.40,162.00 166.50,161.09 167.00,156.60 167.70,163.00 168.00,167.77 168.40,174.00 169.50,175.04 170.00,175.50 171.00,175.28 172.50,175.01 173.00,175.00 174.00,175.69 175.00,176.50 175.50,176.88 177.00,178.00 178.50,178.04 180.00,178.31 181.50,178.31 183.00,178.50 184.50,178.70 185.00,178.80 186.00,178.85 187.50,178.73 189.00,178.78 190.50,178.85 192.00,179.00 193.50,179.06 195.00,179.08 196.50,179.02 198.00,179.05 199.50,179.17 200.00,179.20 201.00,179.12 202.50,179.23 204.00,179.18 205.50,179.12 207.00,179.29 208.50,179.29 210.00,179.29 211.50,179.25 213.00,179.16 214.50,179.25 216.00,179.36 217.50,179.29 219.00,179.36 220.50,179.35 222.00,179.35 223.50,179.42 225.00,179.38 226.50,179.51 228.00,179.29 229.00,179.50" fill="none" stroke="#151515" stroke-width="0.9" stroke-linejoin="round"/>
<polyline points="28.50,205.00 29.70,204.95 30.90,204.77 32.10,204.97 33.30,205.04 34.50,204.85 35.70,204.92 36.90,204.98 38.10,205.07 39.30,205.06 40.50,205.04 41.70,204.94 42.90,204.66 44.10,205.08 45.30,204.83 46.50,204.75 47.70,204.98 48.90,204.96 50.10,204.80 51.30,204.74 52.50,205.05 53.70,204.93 54.90,204.87 55.00,205.00 56.10,204.49 57.30,204.14 58.00,204.00 58.50,203.36 59.70,202.77 60.50,202.30 60.90,202.48 62.10,203.50 63.30,204.50 64.50,204.81 65.00,205.00 65.70,204.53 66.90,204.41 67.90,204.00 68.10,204.05 69.30,204.77 70.00,205.20 70.50,205.20 71.70,205.20 72.90,205.21 74.10,205.13 75.30,205.16 76.50,205.16 77.70,205.10 78.90,205.17 80.10,205.16 81.30,205.22 82.50,205.03 83.70,205.01 84.90,205.08 86.10,204.88 87.30,204.99 88.50,205.13 89.70,204.86 90.90,204.91 92.10,205.10 93.30,204.86 94.50,205.06 95.70,205.01 96.90,205.12 98.10,204.70 99.30,205.09 100.50,205.10 101.70,204.98 102.90,204.80 104.10,204.94 105.30,204.89 106.50,205.08 107.70,204.89 108.00,205.00 108.90,204.59 110.10,203.90 111.30,203.19 111.50,203.30 112.50,203.54 113.70,204.27 114.90,204.66 115.20,205.00 116.10,204.93 117.30,204.82 118.50,205.04 119.70,204.77 120.90,204.80 122.00,205.00 122.10,204.94 123.30,204.61 124.50,204.50 125.70,201.22 126.00,200.50 126.90,201.96 127.30,203.00 128.00,201.50 128.10,201.21 129.30,198.81 129.40,198.60 130.50,200.06 131.00,201.00 131.70,202.01 132.90,203.85 133.00,204.00 134.10,204.19 135.30,204.58 136.50,204.70 137.00,205.00 137.70,204.49 138.90,204.52 140.10,204.09 141.00,204.00 141.30,203.44 142.50,202.07 143.40,201.00 143.70,201.05 144.90,203.22 146.00,205.00 146.10,204.97 147.30,205.07 148.50,204.95 149.70,204.98 150.90,204.94 152.10,204.97 153.30,204.81 154.50,204.99 155.70,204.78 156.90,204.87 158.10,204.68 159.30,204.81 160.50,204.78 161.70,204.88 162.90,204.89 164.10,204.99 165.30,204.89 166.50,204.73 167.70,204.71 168.90,205.02 170.00,205.00 170.10,204.67 171.30,204.81 172.50,204.36 173.00,204.50 173.70,204.38 174.90,204.64 176.00,205.00 176.10,204.90 177.30,204.71 178.50,204.29 179.00,204.50 179.70,203.56 180.90,201.80 181.00,202.00 182.10,196.99 182.30,196.00 183.20,189.00 183.30,188.16 184.30,182.00 184.50,183.00 185.50,188.00 185.70,189.29 186.50,195.00 186.90,196.14 188.00,200.00 188.10,200.36 189.00,203.00 189.30,203.11 190.50,203.68 191.70,204.38 192.90,204.86 193.00,205.00 194.10,204.95 195.30,204.76 196.50,205.03 197.70,204.89 198.90,204.93 200.10,204.78 201.30,204.85 202.50,204.84 203.70,204.94 204.90,204.78 206.10,204.70 207.30,204.78 208.50,204.72 209.70,204.92 210.90,204.92 212.10,204.68 213.30,204.92 214.50,204.91 215.70,204.95 216.90,205.03 218.10,204.96 219.30,204.73 220.50,204.59 221.70,205.07 222.90,204.86 224.10,204.78 225.00,205.00 225.30,204.41 226.50,202.65 227.00,202.00 227.70,199.16 228.00,198.00 228.90,201.46 229.20,203.00 229.50,205.00" fill="none" stroke="#a4282c" stroke-width="0.9" stroke-linejoin="round"/>
<polyline points="28.50,230.20 29.20,229.88 29.90,229.01 30.00,229.50 30.60,229.14 31.30,229.00 32.00,227.95 32.60,228.90 32.70,228.36 33.40,229.39 34.10,229.11 34.50,230.50 34.80,230.53 35.50,231.24 36.20,230.58 36.30,231.50 36.90,230.49 37.60,230.10 38.30,231.39 39.00,230.99 39.70,230.59 40.40,230.81 41.00,231.00 41.10,230.59 41.80,229.94 42.50,229.26 43.20,230.22 43.50,230.50 43.90,230.39 44.60,229.47 45.30,229.59 45.60,229.50 46.00,229.58 46.70,229.43 47.40,230.41 47.50,230.50 48.10,230.00 48.80,229.80 49.50,229.73 50.20,227.82 50.30,229.30 50.90,229.00 51.60,229.66 52.30,229.35 53.00,230.50 53.70,229.64 54.40,230.45 55.10,229.43 55.80,230.50 56.50,230.55 57.20,230.21 57.90,230.47 58.00,230.20 58.60,229.57 59.30,229.81 60.00,229.60 60.70,228.99 61.40,229.29 62.10,228.93 62.30,229.20 62.80,229.71 63.50,230.08 64.20,230.97 64.90,231.04 65.00,231.60 65.60,231.56 66.30,231.49 67.00,231.71 67.70,231.57 68.40,231.62 69.10,231.62 69.80,231.66 70.50,231.60 71.20,231.66 71.90,231.56 72.60,231.47 73.30,231.65 74.00,231.45 74.70,231.67 75.40,231.40 76.10,231.53 76.80,231.61 77.50,231.63 78.20,231.66 78.90,231.73 79.60,231.48 80.30,231.45 81.00,231.64 81.70,231.62 82.40,231.57 83.10,231.41 83.80,231.45 84.50,231.67 85.20,231.65 85.90,231.67 86.60,231.60 87.30,231.74 88.00,231.79 88.70,231.79 89.40,231.58 90.10,231.70 90.80,231.46 91.50,231.66 92.20,231.79 92.90,231.80 93.60,231.72 94.30,231.78 95.00,231.74 95.70,231.74 96.40,231.47 97.10,231.79 97.80,231.60 98.50,231.80 99.20,231.64 99.90,231.24 100.60,230.84 101.00,231.00 101.30,229.87 102.00,230.23 102.70,229.30 103.40,230.39 104.00,230.50 104.10,229.47 104.80,230.12 105.50,229.62 106.00,229.50 106.20,227.79 106.90,229.06 107.60,228.00 108.00,228.40 108.30,228.49 109.00,229.29 109.70,229.87 110.00,230.00 110.40,228.92 111.10,228.95 111.50,230.50 111.80,229.98 112.50,230.40 113.20,229.86 113.90,230.26 114.60,230.49 115.00,230.50 115.30,230.63 116.00,230.02 116.70,229.50 117.40,228.78 117.60,230.00 118.10,229.92 118.80,230.44 119.50,229.86 120.20,229.03 120.90,229.60 120.90,231.00 121.60,229.11 122.30,229.89 123.00,227.83 123.70,228.48 124.20,228.40 124.40,228.36 125.10,228.54 125.80,227.68 126.50,228.48 127.20,228.13 127.40,229.00 127.90,227.32 128.60,228.06 129.30,225.95 130.00,225.47 130.70,225.05 131.30,225.20 131.40,224.39 132.10,224.47 132.80,222.79 133.40,223.00 133.50,222.54 134.20,223.83 134.90,223.74 135.60,224.92 136.20,226.80 136.30,226.17 137.00,224.90 137.70,224.36 138.40,225.02 138.90,225.20 139.10,224.40 139.80,225.28 140.50,225.29 141.20,224.76 141.60,225.50 141.90,225.07 142.60,224.96 143.30,225.20 144.00,225.72 144.70,226.46 144.90,226.80 145.40,222.05 145.80,218.00 146.10,215.66 146.50,212.10 146.80,212.87 147.30,215.00 147.50,214.41 148.20,220.30 148.90,222.59 149.60,225.29 150.30,227.90 151.00,224.18 151.50,222.00 151.70,220.30 152.40,213.65 152.60,212.00 153.10,210.12 153.60,208.80 153.80,208.63 154.50,209.99 154.70,211.00 155.20,213.09 155.90,219.38 156.00,220.00 156.60,222.58 157.30,225.33 158.00,230.00 158.70,228.63 159.40,228.51 160.00,228.50 160.10,228.34 160.80,227.65 161.50,227.37 162.20,226.91 162.90,226.47 162.90,226.30 163.60,225.10 164.30,225.97 165.00,227.23 165.60,228.00 165.70,227.52 166.40,227.80 167.10,228.87 167.80,229.31 168.50,229.47 169.20,228.95 169.90,231.09 170.00,231.00 170.60,230.34 171.30,230.56 172.00,230.92 172.70,230.61 173.40,229.82 174.10,230.85 174.80,230.04 175.50,230.29 176.20,230.63 176.90,230.17 177.60,230.12 178.30,230.54 179.00,230.17 179.70,230.73 180.40,230.38 181.00,230.50 181.10,230.47 181.80,230.61 182.50,230.32 183.20,230.07 183.90,230.60 184.60,230.43 185.30,230.13 186.00,230.39 186.70,230.82 187.40,230.97 188.10,230.92 188.80,230.54 189.50,230.26 190.20,230.58 190.90,230.65 191.60,231.29 192.30,230.86 193.00,230.92 193.70,230.93 194.40,231.05 195.00,231.50 195.10,231.58 195.80,231.74 196.50,231.74 197.20,231.10 197.90,230.65 198.60,230.91 199.30,230.90 200.00,231.09 200.70,231.46 201.40,230.64 202.10,231.52 202.80,231.41 203.50,231.34 204.20,231.43 204.90,230.50 205.60,230.82 206.30,231.06 207.00,230.80 207.70,230.70 208.40,230.74 209.10,230.42 209.80,230.69 210.50,230.56 211.20,231.17 211.90,230.84 212.60,230.94 213.30,231.10 214.00,230.47 214.70,230.83 215.00,231.00 215.40,230.93 216.10,230.59 216.80,231.13 217.50,230.57 218.20,230.50 218.90,230.88 219.60,230.26 220.30,230.66 221.00,230.78 221.70,231.07 222.40,230.64 223.10,230.95 223.80,230.48 224.50,231.17 225.20,230.65 225.90,230.91 226.60,230.43 227.30,231.21 228.00,230.57 228.70,230.05 229.00,231.00" fill="none" stroke="#279a27" stroke-width="0.9" stroke-linejoin="round"/>
<polyline points="28.50,258.00 29.50,258.05 30.50,257.94 31.50,257.91 32.50,257.82 33.50,258.01 34.50,258.01 35.50,257.93 36.50,257.64 37.50,258.00 38.50,257.42 39.10,257.00 39.50,256.96 40.50,257.66 41.00,258.00 41.50,258.03 42.50,257.95 43.50,257.92 44.50,257.59 45.50,257.59 46.50,257.95 47.50,257.71 48.50,257.89 49.50,257.89 50.00,258.00 50.50,257.46 51.50,257.26 52.10,257.00 52.50,257.27 53.50,257.54 54.00,258.00 54.50,257.60 55.50,257.78 56.50,257.56 57.50,257.61 58.00,257.80 58.50,257.15 59.50,256.00 60.50,254.51 61.40,253.40 61.50,253.42 62.50,254.60 63.00,255.50 63.50,255.82 64.50,256.74 65.10,257.50 65.50,257.45 66.50,257.46 67.50,257.80 68.50,257.47 69.50,257.92 70.00,258.00 70.50,257.58 71.50,257.86 72.50,257.79 73.50,257.88 74.50,257.87 75.50,257.53 76.50,257.95 77.50,257.74 78.50,257.75 79.50,257.74 80.50,257.80 81.50,256.71 82.50,256.35 82.70,256.20 83.50,256.33 84.50,257.09 85.50,258.00 86.50,257.85 87.50,257.62 88.50,257.85 89.50,257.74 90.50,257.42 91.50,257.44 92.50,257.38 93.50,257.72 94.50,257.47 95.50,257.42 96.50,257.54 96.60,257.50 97.50,252.00 98.10,248.80 98.50,248.49 99.40,248.00 99.50,246.89 100.50,236.59 100.70,234.50 101.50,238.60 102.20,242.30 102.50,244.65 103.00,249.00 103.50,252.04 104.00,255.30 104.50,255.40 105.50,256.50 106.50,255.89 106.90,256.00 107.50,256.25 108.50,257.00 109.50,257.06 110.50,256.84 111.50,257.00 112.50,257.01 113.50,257.03 114.50,256.84 115.50,257.17 116.50,256.82 117.50,257.28 118.50,257.27 119.50,257.03 120.50,256.84 120.80,257.30 121.50,257.04 122.50,257.37 123.50,257.21 124.00,257.50 124.50,257.21 125.50,256.56 126.30,256.20 126.50,256.34 127.00,256.40 127.50,256.82 128.50,257.31 129.00,258.00 129.50,257.49 130.50,257.59 131.50,257.56 132.50,257.63 133.50,257.69 134.50,257.45 135.00,257.50 135.50,256.74 136.50,255.99 137.00,255.60 137.50,255.80 138.50,256.30 139.00,256.50 139.50,256.11 140.50,255.32 141.00,255.00 141.50,253.97 142.50,252.00 143.50,251.21 144.00,251.40 144.50,252.13 145.50,254.00 146.50,255.70 147.00,257.00 147.50,256.97 148.50,257.01 149.50,257.07 150.50,256.85 151.50,257.36 152.00,257.30 152.50,257.01 153.50,257.01 154.50,256.95 155.00,257.00 155.50,255.61 156.50,253.06 157.00,252.00 157.50,250.72 158.50,248.99 159.00,248.00 159.50,248.97 160.00,250.00 160.50,251.97 161.00,254.00 161.50,254.58 162.50,255.55 163.00,256.50 163.50,256.77 164.50,257.33 165.00,257.50 165.50,257.57 166.50,257.30 167.50,257.44 168.50,257.44 169.50,257.56 170.00,257.50 170.50,257.40 171.50,257.00 172.50,256.57 173.00,256.50 173.50,256.63 174.50,256.94 175.50,257.27 176.00,257.50 176.50,257.41 177.50,257.22 178.50,257.53 179.50,257.08 180.50,257.45 181.50,257.10 182.50,257.56 183.50,257.58 184.00,257.50 184.50,257.20 185.50,256.51 186.50,255.99 187.00,256.00 187.50,256.02 188.50,256.64 189.50,256.60 190.50,257.10 191.00,257.50 191.50,257.45 192.50,257.45 193.50,257.58 194.50,257.43 195.50,257.56 196.50,257.51 197.50,257.58 198.50,257.49 199.50,257.38 200.50,257.54 201.50,257.09 202.50,257.14 203.50,257.46 204.50,257.19 205.50,257.22 206.00,257.50 206.50,257.13 207.50,256.97 208.50,256.54 209.00,256.50 209.50,256.67 210.50,256.86 211.50,257.35 212.00,257.70 212.50,257.32 213.50,257.76 214.50,257.73 215.50,257.68 216.50,257.88 217.50,257.73 218.50,257.71 219.50,257.71 220.50,257.39 221.50,257.88 222.50,257.80 223.50,257.81 224.50,257.98 225.50,257.72 226.50,257.65 227.50,258.07 228.50,258.05 229.00,258.00" fill="none" stroke="#2e2ea2" stroke-width="0.9" stroke-linejoin="round"/>
<polyline points="28.50,284.00 29.50,283.51 30.50,283.70 31.50,283.49 32.50,283.74 33.50,283.83 34.50,283.94 35.50,283.74 36.50,283.90 37.00,284.00 37.50,283.59 38.20,283.50 38.50,280.23 38.80,277.60 39.50,278.66 40.00,280.00 40.50,281.02 41.50,282.98 41.90,284.00 42.50,283.84 43.50,283.98 44.50,283.81 45.50,283.83 46.50,284.02 47.50,283.91 48.50,284.10 49.50,283.86 50.00,284.00 50.50,283.91 51.50,283.40 52.50,283.58 53.50,283.57 54.50,283.31 55.50,283.16 55.80,283.30 56.50,282.31 57.50,281.78 58.50,281.00 59.50,279.88 60.50,279.40 61.50,280.32 62.50,281.79 63.30,283.00 63.50,282.80 64.50,283.17 65.50,283.52 66.00,283.80 66.50,283.60 67.50,283.45 68.50,283.78 69.50,283.19 70.50,283.47 71.50,283.03 72.50,283.57 73.50,283.29 74.50,283.16 75.50,283.08 76.20,283.30 76.50,283.21 77.50,283.46 78.50,283.51 79.50,283.63 80.00,283.80 80.50,283.61 81.50,283.61 82.50,283.58 83.50,283.84 84.50,283.72 85.50,283.60 86.50,283.90 87.50,283.86 88.50,283.57 89.50,283.79 90.50,283.56 91.50,283.72 92.50,283.56 93.50,283.88 94.50,283.63 95.00,283.80 95.50,282.96 96.50,282.49 97.50,281.48 97.60,281.60 98.50,282.56 99.40,283.50 99.50,283.52 100.50,283.70 101.50,283.77 102.00,283.80 102.50,283.06 103.50,282.18 104.50,281.04 105.50,280.30 106.50,281.68 107.50,282.88 107.80,283.50 108.50,283.54 109.50,283.93 110.00,284.00 110.50,283.71 111.50,283.80 112.50,283.77 113.50,283.83 114.50,284.03 115.50,284.02 116.50,283.78 117.50,283.93 118.50,283.91 119.50,283.67 120.50,283.83 121.50,283.73 122.50,283.41 123.50,283.72 124.50,283.45 125.50,283.65 126.50,283.67 127.50,283.69 128.50,283.64 129.50,283.50 130.50,283.79 131.50,283.65 132.50,283.27 133.50,283.61 134.50,283.49 135.50,283.62 136.50,283.61 137.50,283.62 138.50,283.56 139.50,283.26 140.50,283.19 141.50,283.58 142.50,283.41 143.50,283.43 144.50,283.28 145.00,283.50 145.50,283.36 146.50,283.22 147.50,283.11 148.50,283.47 149.50,282.94 150.50,283.06 151.50,283.29 152.50,282.84 153.50,283.00 154.50,283.31 155.50,282.81 156.50,282.86 157.50,283.06 158.50,282.86 159.50,282.99 160.50,283.03 161.00,283.00 161.50,282.73 162.50,282.83 163.50,282.42 164.50,282.49 165.50,282.62 166.50,282.38 167.50,282.29 168.50,282.36 169.50,282.34 170.00,282.40 170.50,282.41 171.50,282.43 172.50,282.43 173.50,282.64 174.50,282.66 175.50,282.68 176.50,282.70 177.00,282.90 177.50,282.60 178.50,282.13 179.50,281.94 180.50,281.91 181.50,281.64 181.60,281.70 182.50,280.80 183.50,280.18 184.50,279.40 185.50,280.63 186.30,282.30 186.50,282.44 187.50,282.38 188.50,282.69 189.50,283.24 190.50,283.23 190.90,283.50 191.50,282.51 192.50,281.53 193.50,280.07 193.80,280.00 194.50,276.21 195.00,273.60 195.50,270.31 196.20,266.60 196.50,262.71 196.70,260.20 197.50,266.69 197.60,267.80 198.50,275.30 199.50,276.22 200.20,277.70 200.50,277.72 201.50,278.56 202.50,279.28 202.60,279.40 203.50,280.12 204.50,281.17 204.90,281.70 205.50,281.82 206.50,281.98 207.50,282.34 208.40,282.90 208.50,282.72 209.50,282.67 210.50,282.83 211.50,283.25 212.50,283.12 213.50,283.30 214.50,283.56 215.00,283.50 215.50,283.48 216.50,283.30 217.50,283.46 218.50,283.67 219.50,283.54 220.50,283.51 221.50,283.82 222.50,283.31 223.50,283.67 224.50,283.85 225.50,283.71 226.50,283.87 227.50,283.98 228.50,283.89 229.00,284.00" fill="none" stroke="#939322" stroke-width="0.9" stroke-linejoin="round"/>
<text x="182.60" y="170.80" font-size="7.8" fill="#000000" stroke="#000000" stroke-width="0.14">PND</text>
<text x="182.00" y="196.80" font-size="7.8" fill="#a83a40" stroke="#a83a40" stroke-width="0.14">PND+O</text>
<text x="180.60" y="223.80" font-size="7.8" fill="#1f941f" stroke="#1f941f" stroke-width="0.14">PND-CH<tspan font-size="5.4" dy="1">2</tspan></text>
<text x="183.00" y="249.40" font-size="7.8" fill="#20208e" stroke="#20208e" stroke-width="0.14">PND-4H</text>
<text x="182.00" y="276.80" font-size="7.8" fill="#bebe80" stroke="#bebe80" stroke-width="0.14">PND-2H</text>
<line x1="306.30" y1="9.50" x2="306.30" y2="140.30" stroke="#c8c8c8" stroke-width="0.6" stroke-dasharray="0.8,0.8"/>
<line x1="306.30" y1="140.30" x2="507.88" y2="140.30" stroke="#d0d0dc" stroke-width="0.6" stroke-dasharray="0.8,0.8"/>
<line x1="306.30" y1="34.90" x2="507.88" y2="34.90" stroke="#d8d8d8" stroke-width="0.5"/>
<text x="302.60" y="12.45" font-size="3.8" fill="#333" text-anchor="end" font-weight="normal"  stroke="#333" stroke-width="0.04">100</text>
<text x="302.60" y="24.20" font-size="3.8" fill="#333" text-anchor="end" font-weight="normal"  stroke="#333" stroke-width="0.04">50</text>
<text x="302.60" y="35.95" font-size="3.8" fill="#333" text-anchor="end" font-weight="normal"  stroke="#333" stroke-width="0.04">0</text>
<line x1="306.30" y1="61.40" x2="507.88" y2="61.40" stroke="#d8d8d8" stroke-width="0.5"/>
<text x="302.60" y="38.95" font-size="3.8" fill="#333" text-anchor="end" font-weight="normal"  stroke="#333" stroke-width="0.04">100</text>
<text x="302.60" y="50.70" font-size="3.8" fill="#333" text-anchor="end" font-weight="normal"  stroke="#333" stroke-width="0.04">50</text>
<text x="302.60" y="62.45" font-size="3.8" fill="#333" text-anchor="end" font-weight="normal"  stroke="#333" stroke-width="0.04">0</text>
<line x1="306.30" y1="87.90" x2="507.88" y2="87.90" stroke="#d8d8d8" stroke-width="0.5"/>
<text x="302.60" y="65.45" font-size="3.8" fill="#333" text-anchor="end" font-weight="normal"  stroke="#333" stroke-width="0.04">100</text>
<text x="302.60" y="77.20" font-size="3.8" fill="#333" text-anchor="end" font-weight="normal"  stroke="#333" stroke-width="0.04">50</text>
<text x="302.60" y="88.95" font-size="3.8" fill="#333" text-anchor="end" font-weight="normal"  stroke="#333" stroke-width="0.04">0</text>
<line x1="306.30" y1="114.40" x2="507.88" y2="114.40" stroke="#d8d8d8" stroke-width="0.5"/>
<text x="302.60" y="91.95" font-size="3.8" fill="#333" text-anchor="end" font-weight="normal"  stroke="#333" stroke-width="0.04">100</text>
<text x="302.60" y="103.70" font-size="3.8" fill="#333" text-anchor="end" font-weight="normal"  stroke="#333" stroke-width="0.04">50</text>
<text x="302.60" y="115.45" font-size="3.8" fill="#333" text-anchor="end" font-weight="normal"  stroke="#333" stroke-width="0.04">0</text>
<line x1="306.30" y1="140.70" x2="507.88" y2="140.70" stroke="#d8d8d8" stroke-width="0.5"/>
<text x="302.60" y="118.25" font-size="3.8" fill="#333" text-anchor="end" font-weight="normal"  stroke="#333" stroke-width="0.04">100</text>
<text x="302.60" y="130.00" font-size="3.8" fill="#333" text-anchor="end" font-weight="normal"  stroke="#333" stroke-width="0.04">50</text>
<text x="302.60" y="141.75" font-size="3.8" fill="#333" text-anchor="end" font-weight="normal"  stroke="#333" stroke-width="0.04">0</text>
<text x="305.60" y="146.00" font-size="3.9" fill="#222" text-anchor="middle" font-weight="normal"  stroke="#222" stroke-width="0.04">15</text>
<text x="321.16" y="146.00" font-size="3.9" fill="#222" text-anchor="middle" font-weight="normal"  stroke="#222" stroke-width="0.04">16</text>
<text x="336.72" y="146.00" font-size="3.9" fill="#222" text-anchor="middle" font-weight="normal"  stroke="#222" stroke-width="0.04">17</text>
<text x="352.28" y="146.00" font-size="3.9" fill="#222" text-anchor="middle" font-weight="normal"  stroke="#222" stroke-width="0.04">18</text>
<text x="367.84" y="146.00" font-size="3.9" fill="#222" text-anchor="middle" font-weight="normal"  stroke="#222" stroke-width="0.04">19</text>
<text x="383.40" y="146.00" font-size="3.9" fill="#222" text-anchor="middle" font-weight="normal"  stroke="#222" stroke-width="0.04">20</text>
<text x="398.96" y="146.00" font-size="3.9" fill="#222" text-anchor="middle" font-weight="normal"  stroke="#222" stroke-width="0.04">21</text>
<text x="414.52" y="146.00" font-size="3.9" fill="#222" text-anchor="middle" font-weight="normal"  stroke="#222" stroke-width="0.04">22</text>
<text x="430.08" y="146.00" font-size="3.9" fill="#222" text-anchor="middle" font-weight="normal"  stroke="#222" stroke-width="0.04">23</text>
<text x="445.64" y="146.00" font-size="3.9" fill="#222" text-anchor="middle" font-weight="normal"  stroke="#222" stroke-width="0.04">24</text>
<text x="461.20" y="146.00" font-size="3.9" fill="#222" text-anchor="middle" font-weight="normal"  stroke="#222" stroke-width="0.04">25</text>
<text x="476.76" y="146.00" font-size="3.9" fill="#222" text-anchor="middle" font-weight="normal"  stroke="#222" stroke-width="0.04">26</text>
<text x="492.32" y="146.00" font-size="3.9" fill="#222" text-anchor="middle" font-weight="normal"  stroke="#222" stroke-width="0.04">27</text>
<text x="507.88" y="146.00" font-size="3.9" fill="#222" text-anchor="middle" font-weight="normal"  stroke="#222" stroke-width="0.04">28</text>
<text x="406.00" y="151.30" font-size="3.9" fill="#222" text-anchor="middle" font-weight="normal"  stroke="#222" stroke-width="0.04">Time (min)</text>
<text x="292.50" y="7.95" font-size="3.95" fill="#222" stroke="#222" stroke-width="0.03">RT: <tspan fill="#2c2ca8" stroke="#2c2ca8">15.00 - 28.00</tspan>  SM: <tspan fill="#2c2ca8" stroke="#2c2ca8">7B</tspan></text>
<text x="0" y="0" font-size="3.6" fill="#333" stroke="#333" stroke-width="0.06" text-anchor="middle" transform="translate(297.00,75.50) rotate(-90)">Relative Abundance</text>
<text x="509.00" y="11.30" font-size="3.4" fill="#000000" text-anchor="start" font-weight="normal" stroke="#000000" stroke-width="0.08">NL: 6.62E4</text>
<text x="509.00" y="15.30" font-size="3.4" fill="#000000" text-anchor="start" font-weight="normal" stroke="#000000" stroke-width="0.08">m/z= 865.50-866.50 F:</text>
<text x="509.00" y="19.30" font-size="3.4" fill="#000000" text-anchor="start" font-weight="normal" stroke="#000000" stroke-width="0.08">FTMS + p ESI Full ms</text>
<text x="509.00" y="23.30" font-size="3.4" fill="#000000" text-anchor="start" font-weight="normal" stroke="#000000" stroke-width="0.08">[150.0000-1500.0000]  MS</text>
<text x="509.00" y="37.80" font-size="3.4" fill="#a02830" text-anchor="start" font-weight="normal" stroke="#a02830" stroke-width="0.08">NL: 7.30E4</text>
<text x="509.00" y="41.80" font-size="3.4" fill="#a02830" text-anchor="start" font-weight="normal" stroke="#a02830" stroke-width="0.08">m/z= 845.50-846.50 F:</text>
<text x="509.00" y="45.80" font-size="3.4" fill="#a02830" text-anchor="start" font-weight="normal" stroke="#a02830" stroke-width="0.08">FTMS + p ESI Full ms</text>
<text x="509.00" y="49.80" font-size="3.4" fill="#a02830" text-anchor="start" font-weight="normal" stroke="#a02830" stroke-width="0.08">[150.0000-1500.0000]  MS</text>
<text x="509.00" y="64.30" font-size="3.4" fill="#1a8a1a" text-anchor="start" font-weight="normal" stroke="#1a8a1a" stroke-width="0.08">NL: 4.82E5</text>
<text x="509.00" y="68.30" font-size="3.4" fill="#1a8a1a" text-anchor="start" font-weight="normal" stroke="#1a8a1a" stroke-width="0.08">m/z= 833.50-834.50 F:</text>
<text x="509.00" y="72.30" font-size="3.4" fill="#1a8a1a" text-anchor="start" font-weight="normal" stroke="#1a8a1a" stroke-width="0.08">FTMS + p ESI Full ms</text>
<text x="509.00" y="76.30" font-size="3.4" fill="#1a8a1a" text-anchor="start" font-weight="normal" stroke="#1a8a1a" stroke-width="0.08">[150.0000-1500.0000]  MS</text>
<text x="509.00" y="90.80" font-size="3.4" fill="#1a1a96" text-anchor="start" font-weight="normal" stroke="#1a1a96" stroke-width="0.08">NL: 5.90E5</text>
<text x="509.00" y="94.80" font-size="3.4" fill="#1a1a96" text-anchor="start" font-weight="normal" stroke="#1a1a96" stroke-width="0.08">m/z= 849.50-850.50 F:</text>
<text x="509.00" y="98.80" font-size="3.4" fill="#1a1a96" text-anchor="start" font-weight="normal" stroke="#1a1a96" stroke-width="0.08">FTMS + p ESI Full ms</text>
<text x="509.00" y="102.80" font-size="3.4" fill="#1a1a96" text-anchor="start" font-weight="normal" stroke="#1a1a96" stroke-width="0.08">[150.0000-1500.0000]  MS</text>
<text x="509.00" y="117.10" font-size="3.4" fill="#6e6e10" text-anchor="start" font-weight="normal" stroke="#6e6e10" stroke-width="0.08">NL: 7.30E5</text>
<text x="509.00" y="121.10" font-size="3.4" fill="#6e6e10" text-anchor="start" font-weight="normal" stroke="#6e6e10" stroke-width="0.08">m/z= 847.50-848.50 F:</text>
<text x="509.00" y="125.10" font-size="3.4" fill="#6e6e10" text-anchor="start" font-weight="normal" stroke="#6e6e10" stroke-width="0.08">FTMS + p ESI Full ms</text>
<text x="509.00" y="129.10" font-size="3.4" fill="#6e6e10" text-anchor="start" font-weight="normal" stroke="#6e6e10" stroke-width="0.08">[150.0000-1500.0000]  MS</text>
<polyline points="306.30,33.80 307.00,33.53 307.70,31.68 308.40,33.43 309.10,30.93 309.80,32.10 310.50,33.73 311.20,31.69 311.90,30.85 312.60,33.00 313.30,30.13 314.00,30.66 314.70,33.67 315.40,32.07 316.10,30.17 316.80,33.62 317.50,33.76 318.20,32.47 318.90,32.85 319.60,33.14 320.30,30.52 321.00,33.80 321.50,28.20 321.70,27.54 322.00,33.80 322.40,30.35 323.10,31.30 323.80,32.04 324.50,33.54 325.20,30.68 325.90,30.57 326.60,32.54 327.30,32.39 328.00,29.97 328.70,33.56 329.40,31.58 330.10,32.27 330.80,32.18 331.50,33.32 332.20,32.09 332.30,33.80 332.80,29.00 332.90,29.42 333.30,34.00 333.60,33.81 334.30,33.65 335.00,33.46 335.70,34.11 336.40,32.78 337.10,33.11 337.80,32.84 338.00,34.00 338.30,31.40 338.50,32.45 338.70,34.00 339.20,32.51 339.90,32.59 340.60,33.36 341.30,32.39 342.00,33.98 342.70,32.70 343.40,30.43 344.10,33.01 344.20,33.80 344.80,31.08 345.50,30.85 346.00,30.00 346.20,25.72 346.90,22.56 347.40,22.70 347.60,24.48 348.30,32.70 349.00,28.87 349.60,28.60 349.70,28.65 350.40,27.40 351.00,31.80 351.10,28.42 351.80,30.24 352.50,27.95 353.20,29.15 353.30,31.00 353.90,26.39 354.60,27.70 355.30,22.04 355.80,21.80 356.00,18.82 356.50,11.30 356.70,11.37 357.40,21.00 358.10,23.85 358.80,30.04 359.20,34.00 359.50,30.01 360.20,33.22 360.50,33.50 360.90,31.12 361.50,27.70 361.60,28.19 362.30,30.13 362.50,34.00 363.00,32.03 363.70,32.17 364.40,33.42 365.10,32.89 365.80,31.81 366.50,31.45 367.20,31.09 367.90,33.92 368.60,33.96 369.30,33.60 370.00,33.32 370.70,32.76 371.40,32.59 372.10,30.14 372.80,32.20 373.50,29.77 374.20,31.72 374.90,31.30 375.60,33.06 376.30,32.07 377.00,33.90 377.70,29.71 378.40,33.14 379.10,33.39 379.80,33.85 380.50,30.86 381.20,31.31 381.90,31.41 382.60,31.97 383.00,33.80 383.30,29.00 383.80,33.80 384.00,32.38 384.70,33.68 385.40,33.22 386.10,30.68 386.80,32.16 387.50,32.58 388.20,31.72 388.90,33.62 389.60,32.24 390.20,33.80 390.30,28.73 390.50,29.00 391.00,33.80 391.70,31.64 392.40,31.49 393.10,31.25 393.80,33.33 394.50,32.64 395.20,30.76 395.90,29.41 396.60,32.78 397.30,33.80 397.80,25.50 398.00,26.85 398.40,33.80 398.70,31.64 399.40,33.13 400.10,30.39 400.80,33.75 401.50,30.48 401.90,33.80 402.20,27.08 402.40,24.50 402.90,29.09 403.00,33.80 403.60,29.03 404.30,33.13 405.00,33.45 405.70,33.23 406.40,32.80 407.10,29.17 407.80,32.15 408.50,32.68 409.10,33.80 409.20,30.76 409.60,26.40 409.90,29.76 410.20,33.80 410.60,33.89 411.30,29.32 412.00,33.77 412.30,33.80 412.70,29.94 412.80,29.00 413.30,33.80 413.40,30.52 414.10,33.75 414.80,33.36 415.50,32.04 416.20,32.03 416.90,30.01 417.60,31.07 418.30,32.82 419.00,30.94 419.70,29.75 420.40,28.95 421.10,33.24 421.80,33.19 422.50,29.83 423.20,32.28 423.90,29.24 424.20,33.00 424.60,29.44 425.30,28.17 426.00,28.49 426.70,27.04 427.00,27.00 427.40,23.29 428.10,24.86 428.80,21.55 429.50,21.53 430.00,21.40 430.20,21.54 430.90,20.36 431.60,22.38 432.30,20.61 432.40,23.60 433.00,23.94 433.70,24.20 434.40,27.80 435.00,29.00 435.10,28.43 435.80,28.88 436.50,28.37 437.20,28.83 437.80,31.40 437.90,31.29 438.60,29.34 439.30,29.62 440.00,29.72 440.70,30.76 441.40,28.97 442.10,29.50 442.40,32.30 442.80,29.71 443.50,31.61 444.20,30.89 444.90,30.50 445.60,30.73 446.30,30.74 447.00,30.67 447.70,31.37 448.40,30.97 449.10,32.66 449.80,32.65 450.50,31.29 451.20,32.56 451.90,32.38 452.00,33.00 452.40,29.50 452.60,30.97 452.90,33.00 453.30,32.54 454.00,31.21 454.70,31.29 455.40,32.77 456.10,32.45 456.80,31.74 457.50,31.78 458.20,32.33 458.90,32.16 459.60,32.16 460.30,33.22 461.00,32.24 461.70,31.87 462.40,31.06 463.10,32.27 463.80,31.98 464.50,32.40 465.20,32.76 465.90,31.96 466.60,32.15 467.30,32.77 468.00,32.33 468.70,32.65 469.40,32.25 470.10,31.66 470.80,32.51 471.50,31.90 472.20,31.24 472.90,31.80 473.60,33.06 474.30,31.95 475.00,31.55 475.70,31.93 476.40,32.83 477.10,32.56 477.80,33.09 478.50,32.87 479.20,32.59 479.90,32.92 480.60,32.01 481.30,33.37 482.00,31.92 482.70,32.06 483.40,32.64 484.10,31.37 484.80,32.30 485.50,32.74 486.20,32.04 486.90,32.65 487.60,33.24 488.30,33.44 489.00,32.54 489.70,32.44 490.40,33.32 491.10,33.37 491.80,32.87 492.50,32.93 493.20,33.04 493.90,32.54 494.60,32.98 495.30,32.38 496.00,32.98 496.70,33.32 497.40,32.38 498.10,33.22 498.80,33.26 499.50,32.69 500.20,32.74 500.90,33.42 501.60,33.29 502.30,33.16 503.00,33.52 503.70,31.97 504.40,32.42 505.10,31.55 505.80,31.81 506.50,32.29 507.20,33.32 507.90,32.50 508.00,33.60" fill="none" stroke="#151515" stroke-width="0.8" stroke-linejoin="round"/>
<polyline points="306.30,60.00 307.10,51.68 307.50,52.00 307.90,52.33 308.70,51.98 308.80,52.50 309.50,51.59 310.00,54.00 310.30,51.47 311.10,51.63 311.90,53.57 312.00,55.00 312.70,56.13 313.00,59.00 313.50,55.65 314.00,56.50 314.30,54.03 315.10,55.86 315.90,54.34 316.70,54.19 317.50,54.11 318.00,57.00 318.30,55.31 319.10,57.22 319.90,57.40 320.00,58.00 320.70,55.10 321.50,57.59 322.30,55.64 323.10,57.33 323.90,57.36 324.70,55.83 325.00,57.00 325.50,56.12 326.30,54.24 327.10,56.20 327.90,56.42 328.70,55.62 329.50,55.22 330.00,57.00 330.30,57.52 331.00,58.50 331.10,57.57 331.90,56.63 332.70,53.57 333.00,56.00 333.50,54.93 334.30,53.27 335.10,54.57 335.90,55.24 336.70,55.47 337.50,54.79 338.00,56.00 338.30,53.28 339.10,50.66 339.50,51.50 339.90,51.89 340.70,52.39 341.00,56.00 341.50,51.83 342.00,52.50 342.30,51.46 343.10,50.46 343.90,52.88 344.00,54.00 344.70,50.85 345.50,48.94 346.00,50.00 346.30,46.10 347.10,40.82 347.20,40.00 347.90,43.66 348.50,50.00 348.70,50.44 349.50,52.23 350.00,55.00 350.30,55.74 351.10,56.27 351.90,58.29 352.00,59.00 352.70,56.73 353.50,59.03 354.00,60.00 354.30,58.16 355.10,57.14 355.90,53.62 356.00,56.00 356.70,56.26 357.50,54.14 358.00,57.00 358.30,55.87 359.10,53.49 359.90,50.29 360.00,52.00 360.70,48.95 361.00,48.50 361.50,53.54 362.00,60.00 362.30,57.98 363.10,57.07 363.90,59.21 364.70,57.25 365.50,57.32 366.00,58.50 366.30,56.18 367.10,57.04 367.90,55.98 368.70,57.03 369.50,57.90 370.00,58.50 370.30,55.62 371.10,56.33 371.90,55.93 372.00,56.00 372.70,54.13 373.50,56.84 374.00,58.00 374.30,56.22 375.10,55.83 375.90,53.08 376.70,52.65 377.00,54.00 377.50,51.73 378.30,55.17 379.00,57.00 379.10,54.75 379.90,54.24 380.70,54.84 381.00,55.00 381.50,54.38 382.30,54.78 383.10,56.16 383.90,54.49 384.00,57.00 384.70,55.10 385.50,55.66 386.00,55.00 386.30,53.43 387.10,53.05 387.90,55.73 388.00,56.00 388.70,52.14 389.50,50.00 390.30,40.54 391.00,37.30 391.10,36.49 391.90,43.19 392.50,48.00 392.70,46.38 393.50,50.83 394.00,56.00 394.30,54.06 395.10,54.77 395.90,55.15 396.00,55.00 396.70,56.05 397.50,59.00 398.30,56.57 399.00,56.00 399.10,55.02 399.90,56.88 400.50,58.00 400.70,55.77 401.50,49.54 401.60,51.30 402.30,56.19 402.60,60.00 403.10,56.35 403.90,58.16 404.70,55.44 405.50,55.60 406.30,58.81 406.50,60.00 407.10,58.00 407.90,57.34 408.70,55.60 408.70,53.13 409.50,58.24 409.70,60.20 410.30,57.09 411.00,56.50 411.10,56.09 411.90,57.19 412.00,60.20 412.70,59.23 413.50,60.22 414.30,58.15 415.10,59.37 415.90,60.03 416.70,59.93 417.50,58.07 418.30,59.20 419.10,58.47 419.90,57.72 420.70,59.50 421.50,58.65 422.30,59.48 423.10,58.76 423.90,59.50 424.70,59.02 425.50,59.86 426.30,58.05 427.10,59.05 427.90,58.88 428.70,59.78 429.50,59.59 430.30,59.62 431.10,58.71 431.90,59.16 432.70,58.14 433.50,58.67 434.30,58.03 435.10,58.59 435.90,59.63 436.70,59.48 437.50,59.52 438.30,59.36 439.10,60.12 439.90,58.90 440.70,60.01 441.50,59.00 442.30,60.09 443.10,59.71 443.90,59.29 444.70,58.72 445.50,60.04 446.30,59.99 447.10,60.24 447.90,59.11 448.70,58.61 449.50,59.36 450.30,59.90 451.10,59.15 451.90,59.53 452.70,60.13 453.50,57.67 454.00,60.20 454.30,55.06 454.50,55.60 455.10,58.16 455.20,60.20 455.90,55.44 456.60,55.60 456.70,55.07 457.50,60.20 458.30,59.03 459.10,55.63 459.90,56.33 460.50,56.00 460.70,54.60 461.50,60.00 462.30,59.50 463.10,60.06 463.90,59.47 464.70,58.81 465.50,59.76 466.30,59.54 467.10,57.89 467.90,59.36 468.70,57.96 469.50,59.75 470.30,59.34 471.10,58.85 471.90,57.31 472.70,57.48 473.50,59.96 474.30,57.68 475.10,57.39 475.90,59.60 476.70,59.29 477.50,57.39 478.30,58.86 479.10,59.25 479.90,58.67 480.70,57.96 481.50,57.26 482.30,58.84 483.10,58.85 483.90,59.37 484.70,59.29 485.50,58.97 486.30,58.90 487.10,58.95 487.90,56.98 488.70,59.05 489.50,59.26 490.30,56.87 491.10,59.46 491.90,57.96 492.70,58.70 493.50,59.57 494.30,57.87 495.10,58.34 495.90,58.11 496.70,58.15 497.50,58.60 498.30,59.14 498.60,59.40 499.10,57.87 499.90,56.39 500.70,55.00 500.80,55.10 501.50,52.75 502.30,50.39 503.00,49.10 503.10,48.69 503.90,51.42 504.60,53.40 504.70,52.69 505.50,50.80 506.30,48.64 506.80,47.50 507.10,47.64 507.90,48.55 508.40,49.60" fill="none" stroke="#a4282c" stroke-width="0.8" stroke-linejoin="round"/>
<polyline points="306.30,81.30 306.80,81.04 307.30,80.04 307.80,81.19 308.30,81.01 308.80,82.00 309.30,81.58 309.80,81.29 310.30,80.54 310.50,81.00 310.80,78.41 311.30,76.00 311.80,75.08 312.10,74.50 312.30,74.60 312.80,76.95 312.90,78.00 313.30,80.22 313.60,82.50 313.80,81.24 314.30,81.85 314.80,82.71 315.30,82.34 315.80,83.20 316.30,78.09 316.50,76.00 316.80,74.61 317.30,72.66 317.50,73.00 317.80,72.41 318.30,70.98 318.80,71.12 319.00,71.50 319.30,71.54 319.80,72.50 320.30,72.72 320.80,73.25 321.30,73.55 321.80,74.80 322.30,74.47 322.80,74.96 323.30,74.52 323.80,76.25 324.30,76.52 324.80,77.26 325.30,76.81 325.80,77.67 326.30,77.64 326.40,77.60 326.80,77.58 327.30,78.23 327.80,77.17 328.30,76.90 328.80,77.74 329.30,77.86 329.80,78.29 330.30,78.25 330.80,78.23 331.30,79.27 331.80,79.16 332.30,78.46 332.80,80.08 333.30,79.60 333.80,80.00 334.30,79.40 334.80,80.06 335.30,79.41 335.80,80.13 336.30,79.81 336.80,80.63 337.30,80.79 337.80,80.66 338.30,79.61 338.80,79.22 339.30,80.66 339.40,81.00 339.80,80.65 340.30,79.84 340.80,78.40 341.30,79.48 341.80,79.28 342.30,78.54 342.80,77.77 343.10,77.60 343.30,76.71 343.80,76.66 344.30,76.53 344.80,76.48 345.30,77.03 345.80,76.86 345.90,76.30 346.30,75.46 346.80,75.96 347.30,75.78 347.80,76.26 348.30,77.20 348.80,76.44 349.30,77.05 349.80,76.69 350.30,76.58 350.50,77.00 350.80,76.63 351.30,77.50 351.80,76.29 352.30,76.41 352.80,76.79 353.30,76.08 353.80,76.14 354.30,76.44 354.80,77.90 355.30,77.24 355.80,78.02 356.00,77.60 356.30,78.02 356.80,77.93 357.30,77.34 357.80,77.41 358.30,79.00 358.80,77.09 359.30,78.85 359.80,79.17 360.30,79.06 360.80,79.19 361.30,78.70 361.70,79.50 361.80,78.85 362.30,79.00 362.80,78.38 363.30,79.28 363.80,79.42 364.30,78.94 364.80,80.05 365.30,80.01 365.80,80.59 366.30,79.76 366.80,80.13 367.30,80.15 367.80,80.34 368.30,80.30 368.80,79.90 369.30,79.91 369.80,80.59 370.30,80.20 370.80,80.41 371.00,81.00 371.30,81.15 371.80,80.39 372.30,80.44 372.80,80.12 373.30,80.68 373.80,81.45 374.30,80.43 374.80,80.58 375.30,80.47 375.80,80.73 376.30,81.42 376.80,80.83 377.30,81.32 377.80,81.19 378.30,80.75 378.80,81.45 379.30,81.02 379.80,81.91 380.20,82.00 380.30,82.18 380.80,82.11 381.30,81.57 381.80,81.37 382.30,82.71 382.80,81.84 383.30,82.04 383.80,81.27 384.30,80.57 384.80,81.74 385.30,80.98 385.80,82.54 386.30,81.45 386.80,82.21 387.30,83.05 387.80,82.06 388.30,82.25 388.80,81.83 389.30,82.15 389.50,82.80 389.80,83.06 390.30,82.74 390.80,82.94 391.30,81.36 391.80,81.29 392.30,81.83 392.80,81.42 393.30,80.55 393.80,81.92 394.30,82.00 394.80,81.66 395.30,82.57 395.80,82.09 396.30,82.33 396.80,82.31 397.00,82.00 397.30,81.84 397.80,81.86 398.30,81.16 398.80,82.19 399.30,82.18 399.80,83.12 400.30,82.47 400.80,83.30 401.30,83.05 401.80,83.67 402.30,83.34 402.50,83.70 402.80,83.78 403.30,83.25 403.80,83.28 404.30,83.81 404.80,83.29 405.30,84.26 405.80,82.65 406.30,83.70 406.80,82.99 407.00,84.00 407.30,84.04 407.80,83.28 408.30,84.27 408.80,83.61 409.30,84.06 409.80,83.88 410.30,83.14 410.80,82.64 411.30,83.30 411.80,83.04 412.30,83.89 412.80,84.13 413.30,84.04 413.80,84.16 414.30,84.50 414.80,82.26 415.30,83.51 415.80,82.87 416.30,83.74 416.80,84.18 417.30,83.11 417.80,82.47 418.30,83.94 418.80,84.31 419.30,83.68 419.80,84.16 420.00,84.00 420.30,84.15 420.80,83.45 421.30,83.41 421.80,83.82 422.30,83.36 422.80,83.58 423.30,83.45 423.80,84.05 424.30,83.48 424.80,83.29 425.30,82.86 425.80,82.85 426.30,84.32 426.80,83.25 427.30,83.81 427.80,84.30 428.30,82.55 428.80,83.92 429.30,83.37 429.80,84.01 430.30,82.76 430.80,83.84 431.30,82.99 431.80,83.75 432.30,84.20 432.80,83.22 433.30,84.56 433.80,84.31 434.30,83.63 434.80,83.89 435.30,83.88 435.80,83.77 436.30,84.32 436.80,84.10 437.30,84.27 437.80,83.69 438.30,83.33 438.80,84.51 439.30,83.97 439.80,83.88 440.00,84.50 440.30,83.82 440.80,83.91 441.30,83.84 441.80,85.40 442.30,84.74 442.80,83.73 443.30,84.13 443.80,84.43 444.00,85.00 444.30,81.40 444.80,76.91 445.00,75.00 445.30,71.34 445.80,65.06 446.00,63.00 446.30,64.49 446.80,66.31 447.30,68.32 447.60,70.00 447.80,70.73 448.30,73.30 448.80,75.23 449.30,78.15 449.60,80.00 449.80,79.46 450.30,80.31 450.80,80.37 451.00,80.50 451.30,80.11 451.80,79.15 452.30,78.52 452.40,79.00 452.80,79.51 453.30,81.27 453.50,82.00 453.80,82.44 454.30,83.34 454.80,84.18 455.00,85.00 455.30,84.92 455.80,84.49 456.30,85.36 456.80,85.36 457.30,85.44 457.80,85.50 458.30,85.65 458.80,85.91 459.30,85.34 459.80,85.89 460.00,86.00 460.30,85.77 460.80,85.62 461.30,85.84 461.80,85.61 462.30,85.53 462.80,86.14 463.30,85.85 463.80,85.28 464.30,85.53 464.80,85.97 465.30,85.40 465.80,86.06 466.30,85.99 466.80,85.82 467.30,85.61 467.80,85.97 468.30,86.26 468.80,85.32 469.30,85.51 469.80,85.52 470.30,86.03 470.80,85.87 471.30,86.26 471.80,85.55 472.30,85.78 472.80,85.87 473.30,86.26 473.80,85.96 474.30,85.82 474.80,86.04 475.30,86.28 475.80,86.00 476.30,85.67 476.80,85.95 477.30,85.75 477.80,85.75 478.30,86.15 478.80,85.89 479.30,86.29 479.80,86.04 480.30,85.83 480.80,85.47 481.30,86.00 481.80,85.83 482.30,86.01 482.80,86.39 483.30,85.80 483.80,86.25 484.30,86.25 484.80,86.08 485.30,85.83 485.80,86.24 486.30,85.53 486.80,86.09 487.30,86.22 487.80,85.69 488.30,85.94 488.80,86.11 489.30,85.89 489.80,86.02 490.30,86.00 490.80,86.51 491.30,86.02 491.80,86.44 492.30,86.47 492.80,86.22 493.30,85.83 493.80,86.54 494.30,85.97 494.80,85.91 495.30,85.88 495.80,86.41 496.30,86.15 496.80,86.32 497.30,86.17 497.80,86.53 498.30,86.30 498.80,86.53 499.30,85.92 499.80,86.17 500.30,86.27 500.80,85.84 501.30,86.23 501.80,86.52 502.30,86.15 502.80,85.95 503.30,86.17 503.80,86.63 504.30,86.46 504.80,86.11 505.30,86.67 505.80,86.42 506.30,86.12 506.80,86.61 507.30,86.28 507.80,86.56 508.00,86.50" fill="none" stroke="#279a27" stroke-width="1.1" stroke-linejoin="round"/>
<polyline points="306.30,113.50 307.10,113.34 307.90,113.62 308.70,113.52 309.50,113.55 310.30,113.53 311.10,113.29 311.90,113.48 312.70,112.86 313.50,113.46 314.30,113.16 315.10,113.54 315.90,113.52 316.70,112.98 317.50,113.32 318.30,113.24 319.10,113.15 319.90,113.49 320.70,113.29 321.50,113.28 322.30,113.21 323.10,112.96 323.90,113.24 324.70,113.38 325.50,113.26 326.30,113.31 327.10,112.79 327.90,113.39 328.70,113.08 329.50,113.37 330.30,113.36 331.10,113.11 331.90,113.00 332.70,113.33 333.50,113.21 334.30,113.14 335.10,112.87 335.90,113.12 336.70,113.16 337.50,113.29 338.30,113.45 339.00,113.30 339.10,112.92 339.90,111.24 340.30,110.50 340.70,111.18 341.30,112.50 341.50,112.31 342.20,112.00 342.30,111.84 343.10,111.04 343.90,110.44 344.70,110.19 345.00,110.00 345.50,109.35 346.30,108.92 347.10,108.31 347.20,108.30 347.90,108.62 348.70,109.43 349.00,110.00 349.50,110.49 350.30,111.38 350.50,111.50 351.10,111.40 351.90,111.58 352.70,112.20 353.50,112.81 354.20,113.00 354.30,113.12 355.10,112.84 355.90,113.00 356.70,112.38 357.50,112.63 358.30,112.45 359.10,112.32 359.90,112.26 360.70,112.29 361.00,112.50 361.50,112.66 362.00,113.30 362.30,112.88 363.10,112.80 363.90,112.99 364.70,113.16 365.50,113.02 366.30,112.88 367.10,112.70 367.90,112.46 368.70,112.10 369.00,112.60 369.50,112.78 370.00,113.30 370.30,113.42 371.10,113.12 371.90,113.29 372.70,112.91 373.50,113.14 374.30,112.96 375.10,113.11 375.90,113.21 376.70,112.83 377.50,113.04 378.30,112.73 379.10,112.63 379.90,112.96 380.70,112.65 381.50,113.18 382.30,112.64 383.10,112.90 383.90,113.10 384.70,112.98 385.50,112.80 386.30,113.03 387.10,112.66 387.90,113.04 388.70,112.67 389.50,112.82 390.30,112.77 391.10,112.82 391.90,113.03 392.70,112.53 393.50,112.78 394.30,112.89 395.10,112.89 395.90,112.96 396.70,112.88 397.50,112.32 398.30,112.56 399.10,112.68 399.90,112.34 400.00,112.80 400.70,112.43 401.50,112.36 402.30,112.77 403.10,112.74 403.90,112.70 404.70,112.50 405.50,112.52 406.30,112.66 407.10,112.55 407.90,112.36 408.70,112.34 409.50,112.48 410.00,112.50 410.30,112.13 411.10,112.03 411.90,111.58 412.00,112.00 412.70,109.82 413.50,107.16 413.60,107.00 414.30,108.82 415.10,110.95 415.60,112.50 415.90,112.34 416.70,112.30 417.50,112.65 418.30,112.40 419.00,112.70 419.10,112.55 419.90,112.15 420.70,112.23 421.00,112.00 421.50,112.25 422.30,112.33 423.00,112.60 423.10,112.19 423.90,112.50 424.70,112.17 425.50,111.85 426.00,112.00 426.30,110.44 427.10,107.22 427.60,105.00 427.90,101.84 428.70,92.79 429.00,90.00 429.50,93.62 430.00,97.00 430.30,99.69 431.00,106.00 431.10,106.05 431.90,107.64 432.70,109.12 433.00,110.00 433.50,109.34 434.30,109.18 435.00,109.00 435.10,108.68 435.90,107.75 436.70,107.11 437.00,107.00 437.50,107.19 438.30,107.81 439.10,107.89 439.90,108.91 440.00,109.00 440.70,109.91 441.50,110.68 442.00,111.50 442.30,111.47 443.10,111.98 443.90,112.06 444.00,112.50 444.70,112.60 445.50,112.56 446.30,112.27 447.10,112.35 447.90,112.28 448.70,112.67 449.50,112.62 450.30,112.80 451.10,112.58 451.90,112.70 452.70,112.72 453.50,112.61 454.30,112.53 455.10,112.93 455.90,112.67 456.70,112.54 457.50,112.81 458.30,113.00 459.10,112.78 459.90,112.78 460.00,113.00 460.70,112.72 461.50,113.00 462.30,112.88 463.10,112.42 463.90,112.87 464.70,112.87 465.50,112.64 466.30,112.39 467.10,112.39 467.90,112.19 468.70,112.68 469.50,112.20 470.30,112.52 471.10,112.50 471.90,112.10 472.00,112.50 472.70,112.08 473.50,110.96 474.00,111.00 474.30,111.25 475.10,111.57 475.90,111.82 476.70,112.72 477.00,113.00 477.50,112.36 478.30,112.55 479.10,112.47 479.90,112.40 480.70,112.23 481.50,111.87 482.00,112.00 482.30,110.96 483.10,108.08 483.90,105.24 484.00,105.00 484.70,102.00 485.50,99.39 486.30,96.46 486.40,96.00 487.10,96.70 487.90,97.67 488.70,98.22 489.00,99.00 489.50,99.60 490.30,100.78 491.10,101.68 491.90,102.54 492.00,103.00 492.70,103.57 493.50,104.36 494.30,105.03 495.10,106.08 495.90,106.93 496.00,107.00 496.70,106.96 497.50,107.87 498.30,108.56 499.10,108.60 499.90,109.33 500.00,109.60 500.70,109.35 501.50,110.16 502.30,110.07 503.10,110.24 503.90,110.65 504.00,111.00 504.70,110.80 505.50,111.24 506.30,111.58 507.10,111.96 507.90,112.02 508.00,112.50" fill="none" stroke="#2e2ea2" stroke-width="0.9" stroke-linejoin="round"/>
<polyline points="306.30,139.50 307.00,139.49 307.70,138.53 308.40,138.60 309.10,139.35 309.80,138.87 310.00,139.00 310.50,138.85 311.20,139.00 311.90,138.26 312.60,138.33 313.30,138.02 314.00,138.62 314.70,138.93 315.40,138.10 316.10,138.27 316.80,138.37 317.50,138.13 318.00,138.50 318.20,138.21 318.90,138.62 319.60,138.23 320.30,137.62 321.00,138.18 321.70,138.10 322.40,137.99 323.10,138.34 323.80,137.84 324.50,138.10 325.20,137.67 325.90,137.66 326.00,138.00 326.60,137.52 327.30,137.68 328.00,137.88 328.70,137.16 329.40,137.44 330.00,137.60 330.10,136.70 330.80,137.45 331.50,136.98 332.20,136.88 332.90,136.78 333.00,137.00 333.60,135.45 334.30,134.73 334.90,133.50 335.00,133.87 335.70,135.50 336.40,136.83 336.50,137.50 337.10,137.10 337.80,137.78 338.50,137.49 339.00,137.80 339.20,136.85 339.90,136.01 340.30,135.20 340.60,136.01 341.30,137.52 341.50,137.80 342.00,137.22 342.70,137.80 343.40,137.06 344.10,137.39 344.80,137.62 345.50,136.96 346.00,137.50 346.20,137.01 346.90,134.82 347.50,134.50 347.60,134.54 348.30,132.94 349.00,131.37 349.10,131.90 349.70,132.65 350.40,134.22 350.50,134.50 351.10,135.18 351.80,135.61 352.50,135.73 353.20,137.04 353.40,137.40 353.90,137.70 354.60,138.12 355.00,138.70 355.30,138.52 356.00,138.48 356.70,138.22 357.40,138.02 358.10,137.43 358.30,138.00 358.80,136.01 359.50,133.82 359.90,132.70 360.20,133.03 360.90,133.27 361.00,133.80 361.60,131.56 362.30,130.02 362.40,130.00 363.00,133.99 363.50,137.10 363.70,136.62 364.40,138.04 364.80,138.20 365.10,136.53 365.80,135.68 365.90,136.00 366.50,136.93 367.20,137.39 367.50,138.20 367.90,138.03 368.60,136.89 369.20,136.50 369.30,135.75 370.00,136.96 370.70,137.06 371.40,138.00 372.10,137.19 372.80,137.51 373.50,137.80 374.20,137.56 374.90,137.04 375.60,137.12 376.30,136.97 376.80,136.90 377.00,136.75 377.70,136.58 378.40,135.96 379.10,136.57 379.80,136.61 380.00,136.50 380.50,137.05 381.20,137.01 381.90,138.06 382.30,138.20 382.60,138.13 383.30,138.19 384.00,137.88 384.70,138.06 385.40,137.78 386.10,137.80 386.80,137.33 387.50,137.77 387.70,138.20 388.20,137.95 388.90,137.68 389.60,137.25 390.30,137.29 391.00,137.94 391.70,137.61 392.40,137.87 393.10,137.27 393.20,137.60 393.80,136.85 394.50,136.08 395.20,136.27 395.90,136.00 396.60,137.15 397.00,137.60 397.30,137.38 398.00,136.39 398.60,136.50 398.70,136.27 399.40,136.56 400.10,136.81 400.80,138.20 401.50,135.15 401.90,133.80 402.20,130.42 402.90,121.54 403.00,121.30 403.60,122.60 404.10,125.10 404.30,126.52 405.00,131.31 405.20,133.80 405.70,130.65 406.30,128.40 406.40,128.14 407.10,129.43 407.30,131.10 407.80,133.32 408.50,135.83 409.00,138.20 409.20,134.70 409.90,125.01 410.10,122.90 410.60,119.97 411.20,116.90 411.30,117.03 412.00,121.92 412.30,123.50 412.70,122.20 413.30,121.80 413.40,122.04 413.80,125.60 414.10,126.83 414.80,130.15 414.90,130.50 415.50,133.20 416.00,135.40 416.20,135.10 416.90,136.38 417.60,136.89 418.20,138.20 418.30,137.43 419.00,138.06 419.70,137.47 420.40,137.39 420.90,137.10 421.10,136.43 421.80,136.34 422.50,135.09 423.10,135.40 423.20,135.19 423.90,135.36 424.60,135.74 424.70,136.50 425.30,136.45 426.00,137.08 426.40,137.60 426.70,136.62 427.40,136.14 428.10,136.22 428.50,136.00 428.80,135.06 429.50,135.03 430.20,134.50 430.70,134.40 430.90,134.44 431.60,135.42 432.30,135.94 432.40,136.00 433.00,136.46 433.70,136.50 434.00,137.10 434.40,133.13 435.10,126.74 435.30,125.10 435.80,120.14 436.20,116.40 436.50,118.39 437.20,121.64 437.30,122.90 437.90,125.12 438.60,129.27 438.90,131.10 439.30,131.53 440.00,133.38 440.70,134.47 441.10,136.00 441.40,136.10 442.10,136.47 442.70,137.60 442.80,137.44 443.50,136.40 444.20,136.16 444.90,136.50 445.60,136.79 446.30,137.76 447.00,137.92 447.10,138.20 447.70,135.98 448.40,135.57 448.70,134.90 449.10,134.54 449.80,133.13 450.30,133.30 450.50,133.98 451.20,134.78 451.90,136.51 452.00,137.10 452.60,136.53 453.30,137.81 453.60,138.20 454.00,138.05 454.70,137.95 455.40,138.32 456.10,137.68 456.80,137.70 457.50,138.11 458.20,137.77 458.90,138.20 459.60,137.22 460.30,138.08 461.00,138.17 461.70,137.17 462.40,138.14 463.10,137.54 463.40,138.20 463.80,137.57 464.50,136.49 465.20,136.35 465.60,136.00 465.90,135.18 466.50,134.00 466.60,133.59 467.30,132.15 468.00,132.50 468.70,133.19 469.40,133.94 469.50,134.50 470.10,135.55 470.80,137.06 471.00,137.50 471.50,136.67 472.20,136.95 472.50,137.00 472.90,137.44 473.60,137.89 474.00,138.50 474.30,137.80 475.00,138.49 475.70,138.60 476.00,138.50 476.40,137.17 477.10,137.37 477.50,137.00 477.80,136.11 478.50,133.72 479.00,133.50 479.20,132.85 479.90,129.77 480.00,130.00 480.60,130.43 481.00,131.50 481.30,130.88 482.00,132.50 482.70,132.75 483.00,133.50 483.40,132.14 484.10,129.96 484.50,128.50 484.80,128.48 485.50,128.16 485.80,128.00 486.20,128.49 486.90,129.83 487.00,130.50 487.60,131.58 488.30,133.07 488.50,133.50 489.00,134.03 489.70,134.79 490.40,135.85 490.50,136.50 491.10,135.24 491.80,133.33 492.50,133.00 493.20,133.27 493.90,133.47 494.00,134.50 494.60,135.19 495.30,136.53 495.50,137.50 496.00,137.49 496.70,137.81 497.40,138.32 498.00,138.50 498.10,138.52 498.80,137.88 499.50,138.60 500.20,138.10 500.90,138.37 501.60,138.37 502.00,138.50 502.30,138.23 503.00,138.15 503.70,138.73 504.40,137.89 505.00,139.00 505.10,137.88 505.80,138.85 506.50,138.67 507.20,138.00 507.90,138.04 508.00,138.50" fill="none" stroke="#939322" stroke-width="0.9" stroke-linejoin="round"/>
<text x="449.00" y="22.40" font-size="7.8" fill="#000000" stroke="#000000" stroke-width="0.14">PND+O+Glu</text>
<text x="449.00" y="46.40" font-size="7.8" fill="#a83a40" stroke="#a83a40" stroke-width="0.14">PND-4H+Glu</text>
<text x="449.00" y="75.80" font-size="7.8" fill="#1f941f" stroke="#1f941f" stroke-width="0.14">PND-CH<tspan font-size="5.4" dy="1">2</tspan><tspan dy="-1">+Glu</tspan></text>
<text x="448.00" y="101.80" font-size="7.8" fill="#20208e" stroke="#20208e" stroke-width="0.14">PND+Glu</text>
<text x="448.00" y="127.80" font-size="7.8" fill="#7c7c18" stroke="#7c7c18" stroke-width="0.14">PND-2H+Glu</text>
<line x1="306.30" y1="156.90" x2="306.30" y2="286.80" stroke="#c8c8c8" stroke-width="0.6" stroke-dasharray="0.8,0.8"/>
<line x1="306.30" y1="286.80" x2="506.61" y2="286.80" stroke="#d0d0dc" stroke-width="0.6" stroke-dasharray="0.8,0.8"/>
<line x1="306.30" y1="182.30" x2="506.61" y2="182.30" stroke="#d8d8d8" stroke-width="0.5"/>
<text x="302.60" y="159.85" font-size="3.8" fill="#333" text-anchor="end" font-weight="normal"  stroke="#333" stroke-width="0.04">100</text>
<text x="302.60" y="171.60" font-size="3.8" fill="#333" text-anchor="end" font-weight="normal"  stroke="#333" stroke-width="0.04">50</text>
<text x="302.60" y="183.35" font-size="3.8" fill="#333" text-anchor="end" font-weight="normal"  stroke="#333" stroke-width="0.04">0</text>
<line x1="306.30" y1="208.50" x2="506.61" y2="208.50" stroke="#d8d8d8" stroke-width="0.5"/>
<text x="302.60" y="186.05" font-size="3.8" fill="#333" text-anchor="end" font-weight="normal"  stroke="#333" stroke-width="0.04">100</text>
<text x="302.60" y="197.80" font-size="3.8" fill="#333" text-anchor="end" font-weight="normal"  stroke="#333" stroke-width="0.04">50</text>
<text x="302.60" y="209.55" font-size="3.8" fill="#333" text-anchor="end" font-weight="normal"  stroke="#333" stroke-width="0.04">0</text>
<line x1="306.30" y1="234.80" x2="506.61" y2="234.80" stroke="#d8d8d8" stroke-width="0.5"/>
<text x="302.60" y="212.35" font-size="3.8" fill="#333" text-anchor="end" font-weight="normal"  stroke="#333" stroke-width="0.04">100</text>
<text x="302.60" y="224.10" font-size="3.8" fill="#333" text-anchor="end" font-weight="normal"  stroke="#333" stroke-width="0.04">50</text>
<text x="302.60" y="235.85" font-size="3.8" fill="#333" text-anchor="end" font-weight="normal"  stroke="#333" stroke-width="0.04">0</text>
<line x1="306.30" y1="261.10" x2="506.61" y2="261.10" stroke="#d8d8d8" stroke-width="0.5"/>
<text x="302.60" y="238.65" font-size="3.8" fill="#333" text-anchor="end" font-weight="normal"  stroke="#333" stroke-width="0.04">100</text>
<text x="302.60" y="250.40" font-size="3.8" fill="#333" text-anchor="end" font-weight="normal"  stroke="#333" stroke-width="0.04">50</text>
<text x="302.60" y="262.15" font-size="3.8" fill="#333" text-anchor="end" font-weight="normal"  stroke="#333" stroke-width="0.04">0</text>
<line x1="306.30" y1="287.20" x2="506.61" y2="287.20" stroke="#d8d8d8" stroke-width="0.5"/>
<text x="302.60" y="264.75" font-size="3.8" fill="#333" text-anchor="end" font-weight="normal"  stroke="#333" stroke-width="0.04">100</text>
<text x="302.60" y="276.50" font-size="3.8" fill="#333" text-anchor="end" font-weight="normal"  stroke="#333" stroke-width="0.04">50</text>
<text x="302.60" y="288.25" font-size="3.8" fill="#333" text-anchor="end" font-weight="normal"  stroke="#333" stroke-width="0.04">0</text>
<text x="305.50" y="293.10" font-size="3.9" fill="#222" text-anchor="middle" font-weight="normal"  stroke="#222" stroke-width="0.04">18</text>
<text x="320.97" y="293.10" font-size="3.9" fill="#222" text-anchor="middle" font-weight="normal"  stroke="#222" stroke-width="0.04">19</text>
<text x="336.44" y="293.10" font-size="3.9" fill="#222" text-anchor="middle" font-weight="normal"  stroke="#222" stroke-width="0.04">20</text>
<text x="351.91" y="293.10" font-size="3.9" fill="#222" text-anchor="middle" font-weight="normal"  stroke="#222" stroke-width="0.04">21</text>
<text x="367.38" y="293.10" font-size="3.9" fill="#222" text-anchor="middle" font-weight="normal"  stroke="#222" stroke-width="0.04">22</text>
<text x="382.85" y="293.10" font-size="3.9" fill="#222" text-anchor="middle" font-weight="normal"  stroke="#222" stroke-width="0.04">23</text>
<text x="398.32" y="293.10" font-size="3.9" fill="#222" text-anchor="middle" font-weight="normal"  stroke="#222" stroke-width="0.04">24</text>
<text x="413.79" y="293.10" font-size="3.9" fill="#222" text-anchor="middle" font-weight="normal"  stroke="#222" stroke-width="0.04">25</text>
<text x="429.26" y="293.10" font-size="3.9" fill="#222" text-anchor="middle" font-weight="normal"  stroke="#222" stroke-width="0.04">26</text>
<text x="444.73" y="293.10" font-size="3.9" fill="#222" text-anchor="middle" font-weight="normal"  stroke="#222" stroke-width="0.04">27</text>
<text x="460.20" y="293.10" font-size="3.9" fill="#222" text-anchor="middle" font-weight="normal"  stroke="#222" stroke-width="0.04">28</text>
<text x="475.67" y="293.10" font-size="3.9" fill="#222" text-anchor="middle" font-weight="normal"  stroke="#222" stroke-width="0.04">29</text>
<text x="491.14" y="293.10" font-size="3.9" fill="#222" text-anchor="middle" font-weight="normal"  stroke="#222" stroke-width="0.04">30</text>
<text x="506.61" y="293.10" font-size="3.9" fill="#222" text-anchor="middle" font-weight="normal"  stroke="#222" stroke-width="0.04">31</text>
<text x="403.00" y="298.20" font-size="3.9" fill="#222" text-anchor="middle" font-weight="normal"  stroke="#222" stroke-width="0.04">Time (min)</text>
<text x="292.50" y="154.75" font-size="3.95" fill="#222" stroke="#222" stroke-width="0.03">RT: <tspan fill="#2c2ca8" stroke="#2c2ca8">18.00 - 31.00</tspan>  SM: <tspan fill="#2c2ca8" stroke="#2c2ca8">7B</tspan></text>
<text x="0" y="0" font-size="3.6" fill="#333" stroke="#333" stroke-width="0.06" text-anchor="middle" transform="translate(297.00,221.50) rotate(-90)">Relative Abundance</text>
<text x="509.00" y="158.70" font-size="3.4" fill="#000000" text-anchor="start" font-weight="normal" stroke="#000000" stroke-width="0.08">NL: 7.61E7</text>
<text x="509.00" y="162.70" font-size="3.4" fill="#000000" text-anchor="start" font-weight="normal" stroke="#000000" stroke-width="0.08">m/z= 471.50-472.50 F:</text>
<text x="509.00" y="166.70" font-size="3.4" fill="#000000" text-anchor="start" font-weight="normal" stroke="#000000" stroke-width="0.08">FTMS + p ESI Full ms</text>
<text x="509.00" y="170.70" font-size="3.4" fill="#000000" text-anchor="start" font-weight="normal" stroke="#000000" stroke-width="0.08">[150.0000-1500.0000]  MS</text>
<text x="509.00" y="184.90" font-size="3.4" fill="#a02830" text-anchor="start" font-weight="normal" stroke="#a02830" stroke-width="0.08">NL: 1.51E5</text>
<text x="509.00" y="188.90" font-size="3.4" fill="#a02830" text-anchor="start" font-weight="normal" stroke="#a02830" stroke-width="0.08">m/z= 486.50-490.50 F:</text>
<text x="509.00" y="192.90" font-size="3.4" fill="#a02830" text-anchor="start" font-weight="normal" stroke="#a02830" stroke-width="0.08">FTMS + p ESI Full ms</text>
<text x="509.00" y="196.90" font-size="3.4" fill="#a02830" text-anchor="start" font-weight="normal" stroke="#a02830" stroke-width="0.08">[150.0000-1500.0000]  MS</text>
<text x="509.00" y="211.20" font-size="3.4" fill="#1a8a1a" text-anchor="start" font-weight="normal" stroke="#1a8a1a" stroke-width="0.08">NL: 8.57E5</text>
<text x="509.00" y="215.20" font-size="3.4" fill="#1a8a1a" text-anchor="start" font-weight="normal" stroke="#1a8a1a" stroke-width="0.08">m/z= 457.50-458.50 F:</text>
<text x="509.00" y="219.20" font-size="3.4" fill="#1a8a1a" text-anchor="start" font-weight="normal" stroke="#1a8a1a" stroke-width="0.08">FTMS + p ESI Full ms</text>
<text x="509.00" y="223.20" font-size="3.4" fill="#1a8a1a" text-anchor="start" font-weight="normal" stroke="#1a8a1a" stroke-width="0.08">[150.0000-1500.0000]  MS</text>
<text x="509.00" y="237.50" font-size="3.4" fill="#1a1a96" text-anchor="start" font-weight="normal" stroke="#1a1a96" stroke-width="0.08">NL: 1.43E7</text>
<text x="509.00" y="241.50" font-size="3.4" fill="#1a1a96" text-anchor="start" font-weight="normal" stroke="#1a1a96" stroke-width="0.08">m/z= 469.50-470.50 F:</text>
<text x="509.00" y="245.50" font-size="3.4" fill="#1a1a96" text-anchor="start" font-weight="normal" stroke="#1a1a96" stroke-width="0.08">FTMS + p ESI Full ms</text>
<text x="509.00" y="249.50" font-size="3.4" fill="#1a1a96" text-anchor="start" font-weight="normal" stroke="#1a1a96" stroke-width="0.08">[150.0000-1500.0000]  MS</text>
<text x="509.00" y="263.60" font-size="3.4" fill="#6e6e10" text-anchor="start" font-weight="normal" stroke="#6e6e10" stroke-width="0.08">NL: 5.36E5</text>
<text x="509.00" y="267.60" font-size="3.4" fill="#6e6e10" text-anchor="start" font-weight="normal" stroke="#6e6e10" stroke-width="0.08">m/z= 471.50-472.50 F:</text>
<text x="509.00" y="271.60" font-size="3.4" fill="#6e6e10" text-anchor="start" font-weight="normal" stroke="#6e6e10" stroke-width="0.08">FTMS + p ESI Full ms</text>
<text x="509.00" y="275.60" font-size="3.4" fill="#6e6e10" text-anchor="start" font-weight="normal" stroke="#6e6e10" stroke-width="0.08">[150.0000-1500.0000]  MS</text>
<polyline points="306.30,181.90 442.50,181.90 443.50,172.00 444.40,158.00 445.40,165.00 446.40,172.00 447.50,177.00 449.00,179.40 450.50,178.50 452.00,178.00 453.50,179.50 455.00,181.50 507.00,181.90" fill="none" stroke="#151515" stroke-width="0.9" stroke-linejoin="round"/>
<polyline points="306.30,207.60 307.30,207.49 308.30,207.63 309.30,207.48 310.30,207.51 311.30,207.14 312.30,207.14 313.30,207.23 314.30,207.03 315.30,207.47 316.30,207.13 317.30,206.82 318.30,207.22 319.30,206.72 320.30,207.14 321.30,207.13 322.30,207.09 323.30,207.31 324.30,207.29 325.30,206.93 326.30,207.08 327.30,206.89 328.30,206.99 329.30,207.16 330.30,206.86 331.30,207.03 332.30,206.99 333.30,206.88 333.80,207.00 334.30,206.20 335.30,205.58 335.70,205.30 336.30,205.29 337.30,205.84 338.30,205.85 338.50,206.00 339.30,205.88 340.30,205.70 341.30,205.84 342.30,206.53 343.00,207.00 343.30,206.94 344.30,206.65 345.30,206.64 346.30,206.91 347.30,206.68 348.30,206.82 348.70,207.00 349.30,207.30 350.30,207.40 351.30,207.34 352.30,207.63 352.40,208.00 353.30,207.76 354.30,207.83 355.30,207.78 356.30,207.85 357.30,208.01 358.30,207.76 359.30,207.48 360.30,207.44 361.30,207.34 362.30,208.01 363.30,207.67 364.30,207.54 365.30,207.80 366.30,207.54 367.30,207.79 368.30,207.85 369.30,207.91 370.30,207.79 371.30,207.66 372.30,207.39 373.30,207.41 374.30,207.35 375.30,207.72 376.30,207.48 377.30,207.86 378.30,207.16 379.30,207.72 380.30,207.47 381.30,207.23 382.30,207.46 383.30,207.61 384.30,207.51 385.30,207.50 386.30,207.55 387.30,207.42 388.30,207.53 389.30,207.48 390.30,207.55 391.30,207.65 392.30,207.65 393.30,207.15 394.30,207.55 395.30,207.43 396.30,207.52 397.30,207.20 398.00,207.50 398.30,207.57 399.30,207.48 400.30,206.89 401.30,206.98 402.30,206.75 403.20,207.00 403.30,207.05 404.30,205.76 405.30,204.89 405.50,205.00 406.30,203.47 407.20,202.90 407.30,202.61 408.30,201.04 408.50,201.00 409.30,199.21 410.30,197.90 410.40,197.70 411.30,197.67 412.30,197.81 412.40,198.30 413.30,199.73 414.30,201.34 414.40,201.60 415.30,201.65 416.30,202.20 417.30,199.47 418.30,197.00 419.30,200.23 419.60,201.60 420.30,202.75 421.30,204.95 421.60,205.50 422.30,204.92 423.30,204.92 424.20,204.90 424.30,204.50 425.30,201.46 426.10,199.60 426.30,199.58 427.30,200.86 427.40,201.00 428.30,202.46 429.30,203.47 429.40,204.20 430.30,204.59 431.30,205.66 432.00,206.20 432.30,206.15 433.30,205.98 434.30,206.49 435.30,206.80 436.30,199.18 436.60,197.00 437.30,189.74 437.90,184.60 438.30,185.40 439.20,187.90 439.30,188.68 440.30,196.79 440.50,198.30 441.30,200.60 442.30,204.31 442.50,204.90 443.30,204.76 444.30,205.51 445.30,205.57 446.30,205.96 446.40,206.20 447.30,205.62 447.70,205.50 448.30,205.48 449.30,206.48 450.30,207.04 450.40,207.20 451.30,206.90 452.30,207.03 453.30,207.29 454.30,207.23 455.30,207.41 455.60,207.50 456.30,207.06 457.30,206.84 458.30,206.65 459.30,205.87 459.50,206.20 460.30,205.40 461.30,204.09 462.10,203.60 462.30,201.70 463.30,194.10 463.40,193.70 464.30,193.99 464.80,194.40 465.30,196.39 466.30,200.48 466.70,202.20 467.30,202.84 468.30,204.36 469.30,205.48 470.00,206.50 470.30,206.59 471.30,206.47 472.30,206.68 473.30,206.88 474.30,206.84 475.00,207.00 475.30,206.83 476.30,206.46 477.30,206.13 478.00,206.00 478.30,205.87 479.30,206.32 480.30,206.59 481.30,206.85 482.00,207.50 482.30,207.35 483.30,207.45 484.30,207.52 485.30,207.51 486.30,207.24 487.30,207.12 488.30,207.43 489.30,207.39 490.30,207.03 491.30,207.48 492.30,207.53 493.30,207.42 494.30,206.90 495.30,207.41 496.30,206.96 497.30,207.33 498.30,207.01 499.30,207.37 500.30,207.16 501.30,207.16 502.30,207.21 503.00,207.30 503.30,206.69 504.30,204.55 505.30,202.85 506.00,202.00 506.30,202.83 507.30,206.26 507.50,207.00" fill="none" stroke="#a4282c" stroke-width="0.9" stroke-linejoin="round"/>
<polyline points="306.30,234.00 331.00,234.00 332.90,232.70 334.50,234.00 408.00,234.00 410.00,233.00 412.00,233.80 422.80,233.50 423.80,228.00 425.10,210.60 425.90,214.00 426.70,221.00 427.70,226.00 428.70,229.00 429.80,226.00 431.00,220.00 432.20,215.00 433.00,219.00 433.80,225.00 434.80,229.00 435.80,231.40 438.00,232.00 440.00,232.00 443.00,233.50 507.00,234.00" fill="none" stroke="#279a27" stroke-width="0.9" stroke-linejoin="round"/>
<polyline points="306.30,260.20 338.50,260.20 339.80,259.50 341.00,260.20 374.60,260.20 376.50,259.00 378.40,257.60 380.50,259.00 383.00,260.20 413.50,260.00 414.30,255.00 415.30,245.00 416.20,237.00 416.90,242.00 417.60,248.00 419.00,256.00 422.00,259.00 425.00,258.50 428.00,257.60 432.00,259.50 435.00,259.00 438.00,258.50 442.00,259.50 464.00,259.00 466.00,254.00 467.40,247.40 468.40,251.00 469.60,256.50 472.00,258.50 475.00,258.40 478.00,260.20 507.00,260.30" fill="none" stroke="#2e2ea2" stroke-width="0.9" stroke-linejoin="round"/>
<polyline points="306.30,286.40 307.30,286.32 308.30,286.23 309.30,286.43 310.30,286.26 311.30,286.19 312.30,286.23 313.30,286.09 314.30,286.00 315.30,285.75 316.30,285.98 317.30,286.24 318.30,286.11 319.30,286.04 320.30,286.03 321.30,285.74 322.30,285.99 323.30,285.77 324.30,285.92 325.30,285.93 326.30,285.92 327.30,285.99 328.30,286.00 329.30,285.70 330.30,285.25 331.00,285.30 331.30,285.07 332.30,284.99 333.30,284.50 333.80,284.70 334.30,284.57 335.30,284.83 336.00,285.20 336.30,285.10 337.30,285.55 338.30,285.85 339.30,285.87 339.40,286.00 340.30,285.69 341.30,285.94 342.30,285.57 343.30,285.62 344.30,285.77 345.30,285.82 346.30,285.74 347.00,285.80 347.30,285.44 348.30,284.89 349.00,284.70 349.30,284.47 350.30,285.19 351.30,286.01 351.50,286.30 352.30,286.25 353.30,285.89 354.30,285.98 355.30,286.29 356.30,285.94 357.30,285.82 358.30,286.05 359.30,285.87 360.30,286.27 361.30,286.08 362.30,285.86 363.30,285.91 364.30,286.09 365.30,285.69 366.30,285.72 367.30,285.87 368.30,285.75 369.30,285.93 370.30,285.90 371.30,286.00 372.00,286.00 372.30,285.62 373.30,284.58 374.30,283.96 374.60,283.80 375.30,284.17 376.30,284.57 377.30,285.26 377.40,285.50 378.30,285.32 379.30,285.28 379.50,285.20 380.30,284.38 381.30,283.31 382.00,282.90 382.30,283.31 383.30,284.31 384.30,285.20 384.80,286.00 385.30,285.93 386.30,285.70 387.30,285.83 388.30,285.69 389.30,285.82 390.30,285.77 391.30,286.02 392.30,285.96 393.30,286.03 394.30,285.78 395.30,285.94 396.30,285.69 397.30,285.67 398.30,286.06 399.30,285.83 400.30,285.96 401.30,285.97 402.30,285.50 403.30,285.90 404.30,286.10 405.30,285.89 406.30,285.82 407.30,285.83 408.30,285.81 409.30,285.70 410.30,285.76 411.30,285.93 412.30,285.77 413.00,286.00 413.30,285.64 414.30,283.94 415.00,283.00 415.30,283.06 416.30,284.51 417.00,285.50 417.30,285.26 418.30,285.15 419.30,285.11 420.30,285.23 421.30,284.67 422.30,285.09 423.30,284.55 424.30,284.91 425.30,284.66 426.30,284.59 427.30,284.39 428.00,284.50 428.30,284.62 429.30,284.45 430.30,284.69 431.30,284.48 432.30,284.73 433.30,284.78 434.30,284.77 435.30,284.60 436.30,284.60 437.30,284.58 438.30,284.58 439.30,284.87 440.00,285.00 440.30,284.89 441.30,284.76 442.30,284.37 443.30,284.58 444.30,284.53 445.30,284.33 446.30,284.09 447.30,283.92 448.00,284.00 448.30,283.89 449.30,283.97 450.30,284.22 451.30,284.07 452.30,284.32 453.30,284.38 454.30,284.45 455.30,284.71 456.30,284.74 457.30,284.69 458.30,285.08 459.30,285.10 460.30,284.40 461.30,283.78 462.30,283.02 462.40,283.00 463.30,283.40 464.30,284.11 465.10,284.60 465.30,284.25 466.30,283.75 467.30,283.78 468.30,283.50 469.30,282.71 470.30,282.20 471.00,282.00 471.30,280.84 472.30,277.10 473.30,267.60 473.90,263.30 474.30,265.76 474.70,268.60 475.30,273.11 475.70,276.60 476.30,277.86 477.30,279.80 478.30,280.18 479.30,280.54 479.50,280.90 480.30,281.66 481.30,282.70 481.60,283.00 482.30,283.48 483.30,284.13 484.30,284.49 484.80,285.10 485.30,285.02 486.30,285.23 487.30,285.31 488.30,285.51 489.30,285.74 490.10,285.90 490.30,285.80 491.30,285.78 492.30,285.59 493.30,285.74 494.30,285.68 495.30,285.92 496.30,285.80 497.30,285.86 498.30,285.59 499.30,285.52 500.00,285.80 500.30,285.53 501.30,285.51 502.30,285.44 503.30,285.19 504.00,285.20 504.30,285.01 505.30,284.42 506.00,284.20 506.30,284.34 507.00,285.50" fill="none" stroke="#939322" stroke-width="0.9" stroke-linejoin="round"/>
<text x="449.60" y="169.80" font-size="7.8" fill="#000000" stroke="#000000" stroke-width="0.14">PND</text>
<text x="449.00" y="195.80" font-size="7.8" fill="#a83a40" stroke="#a83a40" stroke-width="0.14">PND+O</text>
<text x="448.40" y="223.80" font-size="7.8" fill="#1f941f" stroke="#1f941f" stroke-width="0.14">PND-CH<tspan font-size="5.4" dy="1">2</tspan></text>
<text x="449.60" y="247.80" font-size="7.8" fill="#20208e" stroke="#20208e" stroke-width="0.14">PND-4H</text>
<text x="450.00" y="275.40" font-size="7.8" fill="#bebe80" stroke="#bebe80" stroke-width="0.14">PND-2H</text>
<text x="445.00" y="157.90" font-size="3.8" fill="#1a2878" text-anchor="middle" font-weight="bold" stroke="#1a2878" stroke-width="0.2">M0</text>
<text x="418.30" y="195.50" font-size="3.8" fill="#1a2878" text-anchor="middle" font-weight="bold" stroke="#1a2878" stroke-width="0.2">M1</text>
<text x="427.50" y="198.40" font-size="3.8" fill="#1a2878" text-anchor="middle" font-weight="bold" stroke="#1a2878" stroke-width="0.2">M6</text>
<text x="441.20" y="186.00" font-size="3.8" fill="#1a2878" text-anchor="middle" font-weight="bold" stroke="#1a2878" stroke-width="0.2">M2</text>
<text x="447.70" y="204.80" font-size="3.8" fill="#1a2878" text-anchor="middle" font-weight="bold" stroke="#1a2878" stroke-width="0.2">M7</text>
<text x="420.60" y="213.40" font-size="3.8" fill="#1a2878" text-anchor="middle" font-weight="bold" stroke="#1a2878" stroke-width="0.2">M9</text>
<text x="432.40" y="213.40" font-size="3.8" fill="#1a2878" text-anchor="middle" font-weight="bold" stroke="#1a2878" stroke-width="0.2">M10</text>
<text x="410.30" y="240.40" font-size="3.8" fill="#1a2878" text-anchor="middle" font-weight="bold" stroke="#1a2878" stroke-width="0.2">M11</text>
<text x="480.50" y="266.30" font-size="3.8" fill="#a8a850" text-anchor="middle" font-weight="bold" stroke="#a8a850" stroke-width="0.2">M12</text>
</g>
</svg>
</body></html>
